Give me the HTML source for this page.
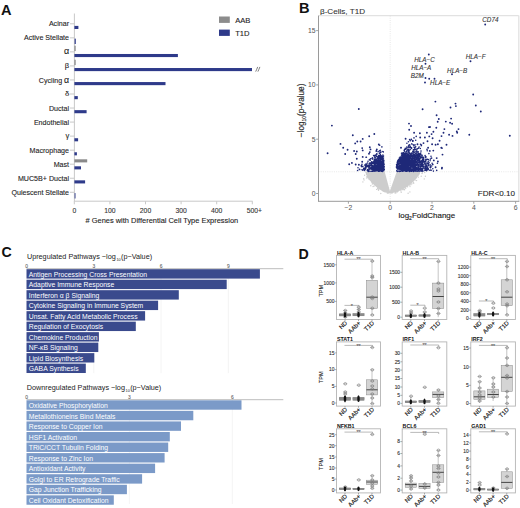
<!DOCTYPE html><html><head><meta charset="utf-8"><style>html,body{margin:0;padding:0;background:#fff;width:520px;height:508px;overflow:hidden}svg{display:block}text{font-family:"Liberation Sans",sans-serif}</style></head><body>
<svg width="520" height="508" viewBox="0 0 520 508">
<rect width="520" height="508" fill="#fff"/>
<text x="0.90" y="14.80" font-size="14.60" font-weight="bold" fill="#111">A</text>
<line x1="74.40" y1="13.50" x2="74.40" y2="201.70" stroke="#c9c9c9" stroke-width="1.00"/>
<line x1="74.40" y1="201.20" x2="252.60" y2="201.20" stroke="#c9c9c9" stroke-width="1.00"/>
<line x1="74.30" y1="201.20" x2="74.30" y2="204.30" stroke="#c9c9c9" stroke-width="1.00"/>
<text x="74.30" y="212.60" font-size="6.80" text-anchor="middle" fill="#333" stroke="#333" stroke-width="0.10">0</text>
<line x1="109.90" y1="201.20" x2="109.90" y2="204.30" stroke="#c9c9c9" stroke-width="1.00"/>
<text x="109.90" y="212.60" font-size="6.80" text-anchor="middle" fill="#333" stroke="#333" stroke-width="0.10">100</text>
<line x1="145.50" y1="201.20" x2="145.50" y2="204.30" stroke="#c9c9c9" stroke-width="1.00"/>
<text x="145.50" y="212.60" font-size="6.80" text-anchor="middle" fill="#333" stroke="#333" stroke-width="0.10">200</text>
<line x1="181.10" y1="201.20" x2="181.10" y2="204.30" stroke="#c9c9c9" stroke-width="1.00"/>
<text x="181.10" y="212.60" font-size="6.80" text-anchor="middle" fill="#333" stroke="#333" stroke-width="0.10">300</text>
<line x1="216.70" y1="201.20" x2="216.70" y2="204.30" stroke="#c9c9c9" stroke-width="1.00"/>
<text x="216.70" y="212.60" font-size="6.80" text-anchor="middle" fill="#333" stroke="#333" stroke-width="0.10">400</text>
<line x1="252.30" y1="201.20" x2="252.30" y2="204.30" stroke="#c9c9c9" stroke-width="1.00"/>
<text x="246.70" y="212.60" font-size="6.80" fill="#333" stroke="#333" stroke-width="0.10">500+</text>
<text x="161.90" y="223.00" font-size="7.45" text-anchor="middle" fill="#222" stroke="#222" stroke-width="0.10"># Genes with Differential Cell Type Expression</text>
<line x1="70.00" y1="23.80" x2="74.40" y2="23.80" stroke="#c9c9c9" stroke-width="1.00"/>
<text x="69.00" y="26.40" font-size="7.10" text-anchor="end" fill="#222" stroke="#222" stroke-width="0.10">Acinar</text>
<rect x="74.40" y="25.90" width="4.00" height="3.10" fill="#2e3a8a"/>
<line x1="70.00" y1="37.84" x2="74.40" y2="37.84" stroke="#c9c9c9" stroke-width="1.00"/>
<text x="69.00" y="40.44" font-size="7.10" text-anchor="end" fill="#222" stroke="#222" stroke-width="0.10">Active Stellate</text>
<rect x="74.60" y="38.64" width="1.20" height="5.40" fill="#2e3a8a"/>
<line x1="70.00" y1="51.88" x2="74.40" y2="51.88" stroke="#c9c9c9" stroke-width="1.00"/>
<text x="69.20" y="53.78" font-size="9.00" text-anchor="end" fill="#222" stroke="#222" stroke-width="0.10">α</text>
<rect x="74.50" y="45.68" width="1.10" height="5.40" fill="#7d7d7d"/>
<rect x="74.40" y="53.98" width="103.50" height="3.10" fill="#2e3a8a"/>
<line x1="70.00" y1="65.92" x2="74.40" y2="65.92" stroke="#c9c9c9" stroke-width="1.00"/>
<text x="69.20" y="68.22" font-size="7.60" text-anchor="end" fill="#222" stroke="#222" stroke-width="0.10">β</text>
<rect x="74.50" y="59.72" width="1.10" height="5.40" fill="#7d7d7d"/>
<rect x="74.40" y="68.02" width="177.60" height="3.10" fill="#2e3a8a"/>
<line x1="70.00" y1="79.96" x2="74.40" y2="79.96" stroke="#c9c9c9" stroke-width="1.00"/>
<text x="69.2" y="82.56" font-size="7.1" text-anchor="end" fill="#222" stroke="#222" stroke-width="0.1">Cycling <tspan font-size="8.8" dy="0.4">α</tspan></text>
<rect x="74.40" y="82.06" width="91.10" height="3.10" fill="#2e3a8a"/>
<line x1="70.00" y1="94.00" x2="74.40" y2="94.00" stroke="#c9c9c9" stroke-width="1.00"/>
<text x="69.20" y="96.30" font-size="7.60" text-anchor="end" fill="#222" stroke="#222" stroke-width="0.10">δ</text>
<rect x="74.40" y="96.10" width="3.40" height="3.10" fill="#2e3a8a"/>
<line x1="70.00" y1="108.04" x2="74.40" y2="108.04" stroke="#c9c9c9" stroke-width="1.00"/>
<text x="69.00" y="110.64" font-size="7.10" text-anchor="end" fill="#222" stroke="#222" stroke-width="0.10">Ductal</text>
<rect x="74.40" y="110.14" width="12.20" height="3.10" fill="#2e3a8a"/>
<line x1="70.00" y1="122.08" x2="74.40" y2="122.08" stroke="#c9c9c9" stroke-width="1.00"/>
<text x="69.00" y="124.68" font-size="7.10" text-anchor="end" fill="#222" stroke="#222" stroke-width="0.10">Endothelial</text>
<line x1="70.00" y1="136.12" x2="74.40" y2="136.12" stroke="#c9c9c9" stroke-width="1.00"/>
<text x="69.20" y="138.42" font-size="7.60" text-anchor="end" fill="#222" stroke="#222" stroke-width="0.10">γ</text>
<rect x="74.40" y="138.22" width="3.70" height="3.10" fill="#2e3a8a"/>
<line x1="70.00" y1="150.16" x2="74.40" y2="150.16" stroke="#c9c9c9" stroke-width="1.00"/>
<text x="69.00" y="152.76" font-size="7.10" text-anchor="end" fill="#222" stroke="#222" stroke-width="0.10">Macrophage</text>
<rect x="74.40" y="152.26" width="2.50" height="3.10" fill="#2e3a8a"/>
<line x1="70.00" y1="164.20" x2="74.40" y2="164.20" stroke="#c9c9c9" stroke-width="1.00"/>
<text x="69.00" y="166.80" font-size="7.10" text-anchor="end" fill="#222" stroke="#222" stroke-width="0.10">Mast</text>
<rect x="74.40" y="159.30" width="12.80" height="3.10" fill="#8a8a8a"/>
<rect x="74.40" y="166.30" width="6.60" height="3.10" fill="#2e3a8a"/>
<line x1="70.00" y1="178.24" x2="74.40" y2="178.24" stroke="#c9c9c9" stroke-width="1.00"/>
<text x="69.00" y="180.84" font-size="7.10" text-anchor="end" fill="#222" stroke="#222" stroke-width="0.10">MUC5B+ Ductal</text>
<rect x="74.40" y="180.34" width="10.70" height="3.10" fill="#2e3a8a"/>
<line x1="70.00" y1="192.28" x2="74.40" y2="192.28" stroke="#c9c9c9" stroke-width="1.00"/>
<text x="69.00" y="194.88" font-size="7.10" text-anchor="end" fill="#222" stroke="#222" stroke-width="0.10">Quiescent Stellate</text>
<rect x="74.60" y="193.08" width="0.90" height="5.40" fill="#2e3a8a"/>
<path d="M255.7 71.6C256.4 70.2 257 68.6 257.7 66.9M257.9 71.6C258.6 70.2 259.2 68.6 259.9 66.9" stroke="#555" stroke-width="0.75" fill="none"/>
<rect x="219.00" y="16.50" width="10.80" height="6.40" fill="#8c8c8c"/>
<rect x="219.00" y="29.60" width="10.80" height="6.30" fill="#2e3a8a"/>
<text x="235.20" y="22.60" font-size="7.60" fill="#222" stroke="#222" stroke-width="0.10">AAB</text>
<text x="235.20" y="35.80" font-size="7.60" fill="#222" stroke="#222" stroke-width="0.10">T1D</text>
<text x="299.00" y="13.00" font-size="14.60" font-weight="bold" fill="#111">B</text>
<text x="320.00" y="14.20" font-size="8.10" fill="#333" stroke="#333" stroke-width="0.10">β-Cells, T1D</text>
<line x1="318.50" y1="15.60" x2="518.80" y2="15.60" stroke="#e2e2e2" stroke-width="1.30"/>
<line x1="518.80" y1="15.60" x2="518.80" y2="201.30" stroke="#e2e2e2" stroke-width="1.30"/>
<line x1="390.20" y1="15.60" x2="390.20" y2="201.30" stroke="#d8d8d8" stroke-width="0.60" stroke-dasharray="1,1.2"/>
<line x1="318.50" y1="171.78" x2="518.80" y2="171.78" stroke="#d8d8d8" stroke-width="0.60" stroke-dasharray="1,1.2"/>
<path d="M365.0 171.6 L367.3 176.9 L371.9 183.1 L378.1 188.5 L384.2 192.3 L390.4 193.6 L398.1 191.5 L405.8 187.7 L411.9 183.1 L416.5 178.5 L419.6 173.8 L420.4 171.6Z M384.6 171.6 L389.9 191.1 L396.8 171.6Z" fill="#cdcdcd" fill-rule="evenodd"/>
<path d="M367.2 177.2h0M402.4 189.1h0M388.3 193.1h0M398.0 191.0h0M425.4 176.3h0M408.1 193.2h0M410.8 184.7h0M419.1 173.7h0M401.2 192.2h0M376.7 189.4h0M362.9 181.9h0M418.4 177.1h0M413.5 182.6h0M378.8 189.3h0M391.4 192.9h0M367.5 176.8h0M400.9 190.8h0M413.2 180.8h0M403.0 189.8h0M422.3 172.7h0M422.0 173.5h0M403.8 189.0h0M424.7 172.6h0M366.8 176.6h0M409.4 185.0h0M366.8 178.0h0M395.8 193.0h0M364.6 175.3h0M378.5 190.2h0M405.7 188.2h0M397.3 191.9h0M424.3 178.9h0M395.0 192.9h0M422.4 172.9h0M415.2 180.1h0M374.1 186.0h0M397.8 191.2h0M363.7 178.7h0M372.3 184.1h0M388.9 192.5h0M369.2 179.5h0M409.9 191.9h0M413.7 183.3h0M410.0 186.6h0M368.4 178.0h0M370.8 185.8h0M373.0 186.6h0M424.8 172.6h0M380.8 193.5h0M367.4 176.9h0M418.0 175.3h0M411.9 183.7h0M372.3 183.1h0M372.1 182.6h0M416.6 180.6h0M404.6 189.8h0M377.7 188.5h0M421.2 176.2h0M395.9 191.9h0M364.1 179.9h0M418.7 174.4h0M383.1 190.7h0M366.5 174.6h0M392.5 192.7h0M387.3 193.0h0M407.6 186.7h0" stroke="#cdcdcd" stroke-width="1.4" stroke-linecap="round"/>
<path d="M415.7 157.2h0M408.4 163.6h0M396.8 165.6h0M410.4 162.2h0M403.6 170.2h0M403.5 163.9h0M410.7 170.0h0M401.5 168.0h0M417.1 148.7h0M415.9 170.0h0M425.1 169.8h0M416.9 165.6h0M410.0 158.1h0M411.6 163.9h0M397.1 168.7h0M417.6 161.1h0M411.7 160.4h0M401.7 164.5h0M411.2 169.5h0M422.3 164.7h0M415.0 162.2h0M413.1 154.5h0M413.6 154.2h0M417.2 155.6h0M403.4 169.4h0M403.8 165.6h0M416.4 150.1h0M397.6 164.4h0M412.4 157.9h0M407.5 166.5h0M419.5 162.4h0M407.7 157.1h0M399.9 161.6h0M412.8 168.5h0M402.6 158.1h0M406.8 163.1h0M420.9 170.8h0M404.4 159.9h0M421.2 145.7h0M400.1 163.1h0M406.5 164.5h0M412.8 162.8h0M405.1 158.7h0M410.2 169.4h0M397.7 165.7h0M415.7 156.9h0M415.2 149.4h0M406.8 165.8h0M408.6 162.8h0M407.1 161.9h0M405.6 167.8h0M408.3 159.2h0M422.7 170.9h0M410.2 163.4h0M403.1 155.1h0M400.2 162.9h0M397.4 163.9h0M407.2 159.7h0M410.3 140.8h0M411.2 154.5h0M401.5 165.0h0M405.4 166.0h0M411.2 165.7h0M415.1 156.5h0M408.9 163.7h0M419.2 169.7h0M408.7 164.3h0M414.8 164.1h0M410.2 165.0h0M414.8 159.7h0M414.8 152.0h0M398.5 164.2h0M405.8 156.5h0M415.0 149.6h0M396.5 166.8h0M422.6 168.9h0M414.8 159.3h0M430.6 167.6h0M401.5 170.6h0M428.1 169.8h0M415.8 153.4h0M405.7 153.0h0M409.5 171.0h0M418.7 158.4h0M402.3 155.0h0M427.0 149.4h0M421.0 151.1h0M402.4 155.1h0M415.3 168.1h0M402.7 166.9h0M417.8 155.0h0M404.3 164.2h0M404.6 170.3h0M402.3 159.1h0M413.9 156.8h0M413.2 165.1h0M403.0 156.4h0M413.3 170.3h0M402.2 163.4h0M403.9 169.7h0M409.7 162.2h0M437.4 163.3h0M416.2 151.6h0M407.8 156.8h0M415.0 144.9h0M407.3 160.0h0M411.5 161.8h0M419.1 162.9h0M406.0 167.2h0M425.2 163.9h0M408.0 160.3h0M417.7 151.8h0M401.0 162.5h0M398.6 161.1h0M414.4 169.3h0M420.0 160.4h0M406.3 160.3h0M407.9 162.6h0M403.2 170.2h0M418.7 167.1h0M413.2 171.1h0M409.5 158.6h0M412.6 170.5h0M410.8 167.1h0M409.9 163.8h0M410.8 155.1h0M399.0 166.7h0M420.3 148.5h0M414.0 137.9h0M426.5 169.6h0M411.4 164.2h0M425.9 166.2h0M414.1 167.7h0M415.1 170.8h0M400.1 163.3h0M419.2 170.8h0M409.3 155.5h0M403.1 153.6h0M418.4 148.3h0M410.2 161.4h0M412.9 169.5h0M408.6 156.8h0M417.3 165.0h0M404.4 156.6h0M406.6 160.4h0M400.3 165.6h0M411.8 169.5h0M407.6 170.4h0M417.4 158.3h0M414.2 149.9h0M420.1 163.3h0M407.1 158.5h0M409.9 169.1h0M416.8 162.4h0M419.5 160.6h0M417.9 157.0h0M421.5 145.1h0M420.3 163.8h0M413.2 154.0h0M408.0 169.4h0M404.7 160.3h0M400.6 162.9h0M412.1 155.8h0M403.2 157.6h0M421.7 161.4h0M400.6 160.1h0M415.1 164.2h0M417.2 152.3h0M401.5 161.6h0M410.0 162.4h0M410.2 146.2h0M412.8 157.1h0M415.4 161.2h0M405.7 162.9h0M401.7 160.8h0M416.3 165.3h0M406.1 161.1h0M409.3 167.1h0M406.0 154.6h0M409.1 155.9h0M418.2 170.1h0M419.2 156.8h0M401.1 168.2h0M414.2 154.9h0M413.3 168.6h0M405.7 149.0h0M398.6 164.8h0M406.8 147.0h0M418.4 169.8h0M401.6 159.7h0M422.2 169.0h0M431.0 156.3h0M406.2 155.6h0M429.8 170.3h0M410.3 155.4h0M400.2 158.4h0M421.2 170.6h0M422.2 163.6h0M427.4 169.4h0M423.6 157.3h0M413.9 165.1h0M407.0 158.9h0M416.6 164.6h0M405.7 153.9h0M402.3 166.2h0M406.2 169.7h0M408.9 162.0h0M423.3 160.8h0M399.9 167.9h0M404.5 163.7h0M413.4 162.7h0M400.6 159.9h0M416.1 167.5h0M407.3 162.9h0M413.4 155.8h0M407.3 156.2h0M426.9 167.7h0M414.1 167.8h0M425.4 157.1h0M413.6 170.8h0M409.6 171.4h0M407.1 158.7h0M430.4 166.0h0M415.7 162.8h0M403.6 157.2h0M403.8 167.6h0M407.3 163.8h0M414.9 165.0h0M407.7 160.7h0M409.3 169.4h0M414.1 160.8h0M408.6 169.8h0M408.3 154.1h0M422.8 170.3h0M404.7 167.3h0M413.6 160.8h0M415.0 159.6h0M409.7 156.8h0M417.0 157.0h0M399.2 167.9h0M402.4 155.5h0M404.8 155.2h0M418.2 158.2h0M419.0 170.2h0M408.3 156.3h0M417.7 154.0h0M411.9 169.4h0M420.2 166.0h0M415.0 158.8h0M416.2 159.3h0M401.5 167.2h0M407.8 160.5h0M413.3 166.6h0M409.9 167.4h0M400.7 167.5h0M409.3 152.8h0M415.9 170.1h0M396.5 167.5h0M408.9 156.9h0M413.9 164.3h0M402.0 167.8h0M410.8 157.1h0M402.4 158.1h0M412.8 151.4h0M416.2 167.8h0M416.8 167.6h0M415.7 168.0h0M404.7 168.9h0M408.5 166.8h0M406.1 161.2h0M412.3 169.3h0M419.0 169.4h0M414.0 147.1h0M402.5 169.4h0M407.3 155.5h0M419.5 162.5h0M405.7 164.9h0M409.1 162.9h0M406.2 157.8h0M408.0 162.2h0M399.4 165.5h0M399.1 164.4h0M409.2 168.4h0M401.2 166.6h0M406.3 158.2h0M404.5 163.1h0M418.7 170.9h0M409.3 162.0h0M420.0 158.4h0M404.5 149.5h0M399.7 158.6h0M407.3 171.1h0M412.7 170.1h0M416.4 152.0h0M411.8 171.3h0M401.7 157.7h0M414.3 162.8h0M403.3 164.1h0M405.6 158.9h0M407.7 157.6h0M414.0 166.4h0M406.2 170.5h0M402.4 170.7h0M423.9 159.1h0M405.7 155.3h0M409.9 163.3h0M399.0 163.6h0M421.5 157.8h0M413.2 168.6h0M410.6 147.2h0M423.3 167.9h0M399.6 169.0h0M415.1 163.5h0M407.8 170.1h0M408.1 170.6h0M410.8 162.1h0M400.2 166.8h0M404.5 159.0h0M401.0 158.8h0M412.8 167.6h0M410.5 166.0h0M404.2 150.6h0M416.4 155.2h0M418.4 159.1h0M408.5 170.7h0M401.2 157.9h0M397.5 162.9h0M405.2 155.3h0M406.9 160.8h0M399.5 161.3h0M399.2 168.3h0M414.2 165.3h0M408.6 145.2h0M418.9 154.0h0M410.0 153.5h0M401.6 162.7h0M422.1 161.5h0M403.5 152.5h0M402.2 171.0h0M417.6 155.2h0M401.2 166.2h0M400.4 157.6h0M426.0 166.4h0M400.1 161.3h0M407.4 156.3h0M414.8 149.2h0M413.3 169.6h0M412.3 160.8h0M398.0 162.3h0M403.4 166.5h0M412.4 170.1h0M407.0 148.1h0M408.3 159.8h0M418.9 162.3h0M407.4 164.4h0M422.9 165.0h0M408.5 164.3h0M410.4 154.8h0M413.1 162.1h0M406.7 169.8h0M412.0 161.4h0M410.8 158.5h0M399.0 171.3h0M412.1 169.8h0M410.9 171.1h0M411.3 159.1h0M423.8 161.4h0M407.3 159.2h0M414.8 169.7h0M412.3 159.9h0M403.4 167.7h0M415.7 156.8h0M397.6 166.8h0M405.2 155.9h0M413.2 160.8h0M419.7 159.2h0M417.0 155.1h0M401.9 167.9h0M428.2 168.3h0M404.7 169.2h0M401.2 165.8h0M427.1 168.9h0M426.4 169.3h0M408.0 158.2h0M403.7 164.3h0M409.8 165.3h0M416.7 158.1h0M400.5 166.7h0M427.8 159.4h0M401.3 161.1h0M416.8 162.7h0M405.2 154.3h0M417.7 171.3h0M417.8 158.3h0M399.1 167.0h0M413.8 160.8h0M418.7 161.3h0M413.4 149.9h0M411.6 159.7h0M416.9 149.9h0M417.1 156.5h0M411.3 169.5h0M412.3 155.6h0M401.7 157.7h0M401.8 159.8h0M414.9 170.4h0M419.0 164.6h0M425.2 168.5h0M413.0 156.4h0M401.1 164.0h0M405.4 169.5h0M428.4 164.7h0M408.8 167.2h0M413.3 164.6h0M407.2 165.9h0M407.0 160.3h0M403.2 168.9h0M402.7 159.9h0M403.5 162.9h0M409.8 160.0h0M420.7 156.9h0M415.2 170.1h0M416.8 167.7h0M411.4 163.7h0M405.4 168.2h0M408.6 149.3h0M425.7 159.2h0M414.9 147.7h0M400.0 168.4h0M413.5 165.9h0M409.3 153.5h0M404.9 165.3h0M411.8 159.3h0M408.1 160.6h0M402.2 162.4h0M398.5 167.5h0M406.0 166.5h0M426.1 165.1h0M408.9 165.2h0M404.2 162.2h0M400.2 166.6h0M407.9 164.4h0M410.0 156.1h0M400.2 167.0h0M402.0 156.0h0M418.9 164.8h0M399.6 168.3h0M408.5 163.5h0M418.8 159.2h0M411.1 163.0h0M411.6 157.0h0M410.4 166.1h0M416.8 149.9h0M409.6 161.8h0M418.5 169.1h0M406.5 155.6h0M403.2 158.3h0M400.9 169.8h0M413.3 156.6h0M418.3 160.4h0M411.8 170.1h0M432.1 163.2h0M414.5 154.5h0M421.8 168.6h0M407.2 157.7h0M402.4 161.0h0M418.7 167.8h0M408.2 156.4h0M418.5 160.0h0M422.8 161.7h0M414.5 157.5h0M408.5 160.8h0M411.5 148.4h0M406.8 147.1h0M418.8 165.1h0M400.4 163.1h0M408.7 157.7h0M410.0 169.7h0M415.8 170.9h0M407.9 166.8h0M407.3 157.0h0M399.9 158.2h0M402.1 171.3h0M399.6 166.0h0M402.1 160.9h0M408.2 161.3h0M409.1 167.5h0M403.5 166.8h0M412.4 162.4h0M396.6 164.6h0M413.0 168.7h0M402.4 153.4h0M403.0 155.4h0M410.8 161.9h0M402.2 159.2h0M413.8 171.0h0M407.9 166.4h0M415.3 161.8h0M405.7 159.4h0M408.8 152.5h0M401.6 159.0h0M425.3 170.1h0M414.0 152.6h0M401.4 167.4h0M418.4 164.9h0M401.1 170.2h0M405.1 163.4h0M401.1 157.5h0M409.6 159.2h0M406.2 165.7h0M411.1 166.7h0M413.8 167.7h0M425.7 167.6h0M422.4 160.5h0M398.9 159.6h0M423.7 160.8h0M407.7 162.7h0M414.8 159.8h0M401.1 157.9h0M421.0 165.7h0M409.9 160.3h0M421.8 170.6h0M406.4 169.8h0M419.2 171.3h0M407.4 169.9h0M413.7 168.8h0M433.4 171.1h0M403.0 162.1h0M410.3 170.6h0M398.4 167.9h0M415.3 159.7h0M412.7 165.9h0M406.9 162.8h0M426.0 168.2h0M424.9 170.3h0M405.6 155.0h0M401.5 158.6h0M415.8 161.6h0M398.8 166.9h0M407.0 167.7h0M427.3 150.8h0M425.6 167.5h0M428.9 153.6h0M430.1 164.7h0M414.2 159.7h0M403.9 161.8h0M415.5 162.3h0M404.6 163.8h0M418.0 167.0h0M415.8 167.5h0M405.6 164.3h0M421.8 168.3h0M405.4 159.3h0M414.5 164.2h0M398.0 171.1h0M409.1 162.3h0M415.3 155.7h0M408.6 169.6h0M415.4 166.1h0M426.9 166.2h0M404.9 151.5h0M401.7 157.9h0M416.6 159.8h0M413.4 162.6h0M407.3 161.9h0M422.7 168.0h0M413.5 165.1h0M419.9 158.0h0M428.5 159.8h0M414.1 156.4h0M402.2 157.0h0M402.8 169.2h0M417.0 169.2h0M397.1 166.0h0M406.5 168.7h0M426.0 162.1h0M415.8 169.0h0M412.9 165.8h0M412.6 153.1h0M420.5 161.6h0M409.8 164.0h0M402.8 165.7h0M403.9 156.9h0M404.1 166.5h0M410.2 166.4h0M415.4 165.7h0M401.5 164.6h0M408.8 146.1h0M417.0 161.2h0M415.5 160.6h0M397.3 168.7h0M399.9 165.7h0M408.7 162.0h0M418.4 155.1h0M400.6 167.6h0M405.4 166.2h0M409.1 171.2h0M405.2 157.7h0M405.7 168.4h0M405.5 169.4h0M401.5 155.2h0M409.1 161.5h0M413.9 166.4h0M414.3 162.8h0M404.9 166.7h0M401.7 163.6h0M405.2 166.8h0M401.5 163.6h0M407.1 157.3h0M404.7 167.2h0M410.9 169.1h0M416.2 161.3h0M402.1 161.5h0M414.3 159.4h0M415.8 166.1h0M410.4 167.4h0M404.0 164.2h0M400.8 161.7h0M413.2 162.0h0M422.4 159.7h0M410.6 156.2h0M411.7 170.8h0M413.6 151.8h0M398.2 169.1h0M407.7 149.7h0M429.1 162.7h0M410.1 169.8h0M419.1 169.7h0M404.3 167.3h0M410.0 161.3h0M406.3 157.9h0M403.9 168.8h0M414.9 167.8h0M402.8 162.5h0M431.2 170.3h0M405.6 164.7h0M418.3 169.6h0M397.6 161.2h0M406.2 160.0h0M401.6 163.2h0M424.5 168.1h0M401.3 168.7h0M424.7 161.8h0M414.2 158.2h0M401.9 168.2h0M425.1 169.1h0M403.5 166.6h0M408.3 157.4h0M422.7 159.0h0M419.1 147.1h0M425.2 161.2h0M407.0 148.0h0M408.5 155.8h0M410.0 170.1h0M408.3 156.5h0M398.8 163.2h0M408.3 170.0h0M408.0 169.8h0M421.2 170.6h0M404.0 164.2h0M408.8 155.0h0M400.2 157.1h0M415.6 166.3h0M410.6 162.1h0M415.0 155.9h0M403.5 160.8h0M401.7 167.6h0M407.0 166.8h0M406.9 164.4h0M415.5 169.2h0M425.2 166.6h0M410.9 168.1h0M409.4 170.5h0M408.3 147.1h0M404.3 158.9h0M415.4 159.6h0M407.5 154.8h0M426.5 165.1h0M407.0 165.2h0M412.7 164.1h0M418.0 169.2h0M414.4 158.6h0M403.1 171.0h0M413.2 144.7h0M428.4 163.5h0M417.3 159.9h0M400.3 165.3h0M405.4 154.5h0M403.9 158.1h0M405.6 166.6h0M398.4 168.8h0M405.2 160.9h0M414.3 162.3h0M402.7 169.4h0M407.9 155.2h0M408.9 161.2h0M406.5 163.1h0M400.4 161.9h0M411.8 143.9h0M406.2 158.2h0M402.1 165.8h0M399.7 159.5h0M411.4 159.8h0M410.4 160.8h0M406.8 170.4h0M421.8 164.1h0M415.7 168.9h0M404.5 162.1h0M413.5 171.4h0M403.6 165.3h0M415.2 170.8h0M411.0 158.5h0M403.2 167.6h0M404.8 162.0h0M409.5 157.5h0M415.5 169.8h0M409.8 167.7h0M408.6 158.5h0M413.7 156.4h0M412.7 158.6h0M407.9 161.1h0M402.1 163.5h0M413.6 170.2h0M408.1 163.5h0M407.8 155.6h0M407.0 153.3h0M404.6 169.6h0M421.5 171.1h0M397.3 171.4h0M408.4 151.8h0M420.7 171.0h0M408.4 141.7h0M404.0 155.8h0M411.6 153.1h0M407.3 165.5h0M421.0 170.4h0M406.8 158.5h0M412.7 140.7h0M414.8 163.7h0M397.3 169.1h0M426.9 165.4h0M410.6 161.7h0M422.1 162.1h0M408.5 168.9h0M408.6 151.7h0M397.9 160.5h0M399.2 163.1h0M427.2 168.0h0M399.6 167.9h0M405.6 163.8h0M404.9 168.9h0M400.6 159.0h0M408.2 160.1h0M424.6 163.3h0M406.9 143.2h0M399.2 164.7h0M411.7 155.0h0M425.2 166.1h0M403.0 153.6h0M425.3 169.3h0M421.7 169.4h0M406.0 159.7h0M420.5 144.3h0M405.5 167.4h0M426.1 166.2h0M430.1 160.7h0M402.3 159.2h0M418.7 166.3h0M415.3 156.6h0M420.5 157.9h0M423.2 158.4h0M407.3 161.7h0M416.2 155.3h0M414.4 170.7h0M411.6 147.9h0M409.3 161.9h0M426.1 165.3h0M401.4 163.7h0M413.5 157.1h0M398.5 167.0h0M418.3 170.2h0M413.5 170.7h0M404.9 168.5h0M410.7 167.0h0M423.8 161.1h0M405.8 155.8h0M406.2 169.9h0M426.6 170.8h0M397.5 162.9h0M409.9 147.6h0M412.0 166.3h0M409.4 152.7h0M398.0 162.4h0M432.8 168.8h0M421.8 165.0h0M405.6 168.9h0M403.7 162.7h0M399.3 171.4h0M408.3 159.9h0M411.9 165.8h0M419.8 155.1h0M406.0 156.9h0M427.5 167.4h0M418.5 165.5h0M426.0 160.2h0M399.8 167.1h0M407.1 163.5h0M403.9 167.2h0M411.1 167.1h0M425.9 168.1h0M413.8 168.7h0M407.2 150.0h0M405.5 162.2h0M404.6 162.7h0M402.2 170.2h0M408.2 165.3h0M405.9 167.2h0M406.6 162.4h0M414.3 157.6h0M406.9 166.2h0M414.7 171.0h0M420.9 165.3h0M409.6 155.6h0M410.2 149.6h0M414.9 169.7h0M425.9 169.3h0M404.2 161.0h0M408.3 170.2h0M403.2 167.5h0M414.3 163.9h0M402.2 159.1h0M415.9 168.9h0M414.7 160.3h0M409.1 161.0h0M409.7 161.9h0M422.0 169.1h0M400.2 165.6h0M409.6 139.6h0M418.9 160.5h0M415.2 164.0h0M399.8 165.3h0M405.9 156.1h0M411.6 170.1h0M400.2 161.1h0M405.1 149.5h0M418.0 160.8h0M402.7 170.7h0M408.5 156.3h0M405.3 163.0h0M418.7 165.1h0M402.5 171.2h0M404.8 165.0h0M413.8 162.2h0M414.2 154.4h0M419.5 156.4h0M399.9 162.1h0M400.1 168.7h0M400.5 159.8h0M410.5 154.0h0M413.2 155.8h0M421.6 163.8h0M401.1 158.9h0M404.0 156.7h0M425.2 170.3h0M410.3 169.3h0M417.7 161.0h0M400.8 163.0h0M413.2 158.7h0M400.6 171.2h0M408.6 170.8h0M407.1 166.4h0M419.6 168.6h0M412.6 165.4h0M403.0 159.6h0M405.7 171.2h0M428.7 165.8h0M418.2 151.7h0M411.0 160.2h0M418.6 156.4h0M418.4 157.4h0M408.0 168.4h0M413.7 145.2h0M404.3 167.0h0M428.3 169.2h0M408.2 157.5h0M414.6 163.9h0M401.1 161.3h0M409.8 166.8h0M414.3 166.8h0M422.4 169.7h0M402.5 165.0h0M421.5 166.3h0M397.3 167.5h0M422.7 166.3h0M404.1 153.7h0M407.4 161.1h0M406.7 151.5h0M425.1 155.6h0M400.5 160.2h0M423.4 161.9h0M402.0 164.6h0M409.7 159.8h0M401.7 161.3h0M416.2 136.4h0M413.2 169.3h0M407.9 163.0h0M404.0 154.1h0M403.9 168.4h0M413.4 158.9h0M402.0 168.0h0M410.6 170.9h0M417.0 168.8h0M405.1 157.7h0M419.3 169.0h0M409.8 165.0h0M407.1 159.1h0M413.6 170.3h0M413.0 170.3h0M409.1 161.5h0M398.5 163.8h0M401.1 165.7h0M407.4 167.9h0M411.7 162.9h0M420.8 166.6h0M425.7 166.3h0M428.0 163.6h0M415.9 159.3h0M420.3 162.5h0M421.0 170.1h0M401.6 162.4h0M404.0 164.6h0M402.3 166.0h0M409.3 158.5h0M416.0 171.3h0M401.4 167.5h0M405.7 161.6h0M405.4 153.1h0M409.8 157.7h0M412.3 164.9h0M413.2 171.1h0M406.5 163.1h0M405.8 163.8h0M407.3 159.2h0M417.3 157.1h0M412.3 166.0h0M399.1 168.1h0M399.4 160.6h0M415.1 162.4h0M414.9 164.9h0M412.1 155.3h0M425.9 164.4h0M400.5 160.3h0M411.7 167.0h0M406.3 168.4h0M407.8 159.6h0M409.7 153.1h0M407.9 157.5h0M411.4 160.1h0M407.8 164.9h0M411.1 162.7h0M409.5 165.2h0M411.5 164.8h0M410.2 168.9h0M412.0 161.5h0M405.3 148.3h0M421.8 162.9h0M419.1 155.7h0M408.9 152.6h0M409.6 164.2h0M402.1 170.0h0M406.9 162.1h0M426.1 168.3h0M408.6 151.3h0M403.6 154.7h0M409.5 163.3h0M420.6 164.5h0M405.2 164.6h0M411.2 154.9h0M410.4 158.7h0M403.4 158.6h0M412.3 163.3h0M413.2 164.9h0M398.4 166.8h0M418.6 153.2h0M406.3 161.5h0M415.1 166.6h0M406.1 157.5h0M407.0 157.8h0M409.2 163.2h0M413.5 156.8h0M417.6 168.6h0M418.9 165.3h0M412.9 163.2h0M403.7 169.6h0M404.9 156.6h0M401.0 160.9h0M407.9 158.2h0M404.1 171.0h0M397.3 162.4h0M401.3 170.2h0M398.5 159.7h0M402.2 153.1h0M401.8 163.3h0M418.3 169.5h0M415.5 163.3h0M406.8 163.1h0M420.2 153.6h0M402.3 163.8h0M402.8 162.0h0M408.4 165.7h0M417.4 162.8h0M421.8 160.6h0M416.4 157.4h0M411.2 166.6h0M404.1 163.1h0M414.1 167.5h0M411.9 169.4h0M405.1 157.1h0M411.1 166.9h0M416.0 153.5h0M419.5 159.4h0M420.5 168.4h0M404.3 156.2h0M403.4 158.5h0M407.7 154.2h0M398.8 161.2h0M408.2 164.4h0M405.4 155.4h0M406.7 168.8h0M414.7 164.4h0M411.2 168.9h0M401.0 170.0h0M404.3 150.7h0M423.6 166.6h0M409.6 168.4h0M396.7 170.7h0M414.7 156.2h0M416.2 162.9h0M423.5 160.7h0M413.8 156.3h0M417.8 170.9h0M412.6 163.6h0M418.7 153.5h0M398.5 159.6h0M410.8 162.6h0M407.9 161.9h0M400.4 168.6h0M416.9 171.0h0M402.7 165.0h0M408.2 164.8h0M417.3 157.5h0M430.4 159.1h0M409.6 163.5h0M421.0 154.9h0M420.2 165.9h0M405.6 162.2h0M404.4 154.9h0M403.5 161.0h0M404.7 155.2h0M400.3 167.2h0M424.9 170.4h0M412.4 166.0h0M415.4 170.0h0M412.4 169.6h0M419.8 169.2h0M421.5 161.6h0M402.4 155.6h0M402.1 153.6h0M415.5 156.1h0M417.2 169.1h0M417.9 166.8h0M405.3 157.2h0M401.9 156.3h0M413.7 167.9h0M413.8 164.9h0M421.5 156.7h0M416.5 153.9h0M402.7 156.9h0M404.0 161.8h0M406.0 165.4h0M408.9 165.3h0M415.7 140.3h0M410.4 162.7h0M400.3 167.2h0M413.2 168.5h0M421.8 169.1h0M407.8 165.3h0M425.7 168.8h0M414.7 166.7h0M411.3 164.3h0M408.2 149.9h0M421.1 170.8h0M409.1 158.5h0M402.1 166.8h0M406.9 165.0h0M407.2 163.2h0M417.2 159.7h0M404.9 157.8h0M401.4 169.5h0M414.1 157.4h0M412.9 164.1h0M415.6 155.7h0M422.3 157.1h0M407.2 170.2h0M409.2 150.9h0M411.6 169.6h0M407.5 154.5h0M400.1 162.2h0M436.7 170.4h0M415.7 146.7h0M416.1 162.5h0M400.0 169.8h0M408.8 171.0h0M406.7 168.9h0M415.4 167.0h0M404.4 165.5h0M406.3 169.6h0M399.1 166.6h0M409.8 157.7h0M404.6 157.8h0M409.9 157.6h0M418.0 155.4h0M402.4 158.0h0M409.6 156.6h0M404.9 168.9h0M417.5 167.1h0M410.3 167.2h0M410.4 157.9h0M414.6 168.9h0M414.1 168.9h0M400.6 169.8h0M406.8 166.9h0M399.3 168.9h0M409.7 157.6h0M425.3 168.8h0M404.4 153.5h0M405.1 158.9h0M411.3 155.7h0M422.8 163.1h0M415.0 156.7h0M412.4 169.1h0M407.1 170.7h0M405.2 169.7h0M415.6 165.9h0M403.1 170.8h0M407.8 162.5h0M405.4 157.7h0M409.9 165.4h0M410.4 167.9h0M419.3 160.1h0M413.1 164.8h0M406.7 151.1h0M404.5 167.4h0M412.0 169.4h0M406.1 167.1h0M422.0 161.6h0M417.6 160.8h0M409.7 144.8h0M423.8 164.7h0M410.3 164.9h0M405.1 156.2h0M422.9 171.3h0M415.9 170.1h0M422.9 170.2h0M401.6 154.9h0M404.5 161.1h0M404.3 169.9h0M408.0 163.2h0M409.2 161.4h0M401.5 153.2h0M405.6 159.1h0M423.5 159.8h0M406.4 165.7h0M414.7 156.8h0M405.9 148.9h0M406.1 168.6h0M398.9 161.5h0M407.9 170.7h0M402.3 154.9h0M410.2 169.4h0M417.9 166.7h0M402.8 170.6h0M413.4 162.5h0M403.7 167.3h0M402.7 161.7h0M412.2 160.9h0M413.7 161.5h0M430.9 170.1h0M408.4 151.7h0M400.5 163.1h0M409.1 164.1h0M415.5 169.4h0M399.9 163.0h0M415.0 168.6h0M420.6 169.7h0M405.4 159.8h0M408.2 169.9h0M419.5 165.9h0M400.6 160.5h0M417.5 163.9h0M411.7 166.1h0M401.3 164.9h0M408.8 165.2h0M422.1 155.4h0M400.6 163.5h0M406.1 156.2h0M414.4 149.2h0M404.7 159.3h0M414.9 154.5h0M416.0 168.1h0M412.5 165.6h0M407.8 169.8h0M407.5 154.4h0M417.8 159.5h0M400.9 164.6h0M412.0 156.7h0M426.9 159.2h0M409.1 157.7h0M399.5 157.8h0M405.7 158.4h0M417.5 164.3h0M420.7 166.0h0M415.6 169.3h0M428.2 161.5h0M413.8 154.9h0M409.6 157.9h0M415.8 157.4h0M412.4 164.7h0M396.8 165.8h0M399.5 158.4h0M413.9 155.3h0M404.1 164.3h0M405.0 155.9h0M401.0 157.5h0M402.8 166.7h0M414.8 158.4h0M407.2 170.0h0M410.0 157.4h0M407.1 152.7h0M407.3 163.5h0M427.4 167.0h0M397.9 164.6h0M406.9 171.3h0M400.2 165.3h0M420.5 167.3h0M405.1 160.6h0M401.2 159.6h0M411.2 170.4h0M415.1 159.8h0M404.8 170.3h0M410.8 169.3h0M423.5 161.2h0M403.3 160.5h0M400.9 159.5h0M425.6 167.5h0M403.2 164.0h0M413.7 171.3h0M404.2 170.6h0M420.8 153.0h0M406.4 157.4h0M426.1 163.8h0M418.0 162.7h0M431.7 166.0h0M408.6 147.1h0M369.3 159.7h0M376.6 166.0h0M379.5 168.1h0M380.8 165.9h0M382.3 166.0h0M375.8 169.5h0M376.5 166.4h0M375.6 159.6h0M376.0 165.3h0M378.6 165.0h0M376.3 166.1h0M378.0 163.5h0M378.9 159.8h0M382.2 165.8h0M376.4 163.2h0M383.3 151.9h0M382.7 169.1h0M382.3 170.3h0M374.6 155.8h0M374.8 160.6h0M380.6 161.4h0M377.1 161.6h0M375.7 169.8h0M382.0 166.5h0M374.1 166.5h0M381.5 156.9h0M379.8 161.5h0M371.7 166.0h0M380.0 165.8h0M377.0 164.2h0M372.5 157.7h0M366.1 164.2h0M377.3 162.2h0M369.3 163.4h0M382.6 166.7h0M379.7 145.3h0M370.2 163.5h0M372.0 168.9h0M371.3 164.2h0M373.1 171.2h0M381.4 164.3h0M377.8 168.7h0M367.9 171.1h0M376.8 162.1h0M377.0 164.4h0M378.9 166.7h0M381.0 152.1h0M378.3 156.4h0M367.5 166.4h0M383.0 167.3h0M377.4 163.2h0M378.5 160.9h0M376.0 171.2h0M378.6 162.2h0M378.1 162.2h0M382.4 166.0h0M378.4 159.6h0M376.3 162.6h0M380.2 159.5h0M383.7 165.7h0M382.5 171.4h0M380.6 158.0h0M381.1 167.2h0M381.1 159.8h0M378.3 159.8h0M376.2 162.9h0M380.1 162.3h0M378.4 169.1h0M373.3 170.4h0M376.3 167.9h0M375.2 167.8h0M375.2 166.8h0M374.4 163.2h0M383.9 164.8h0M370.0 163.1h0M383.3 168.0h0M368.8 167.1h0M376.0 166.4h0M382.9 171.0h0M382.2 160.5h0M376.1 160.9h0M366.5 165.8h0M375.6 161.1h0M366.9 166.7h0M383.0 162.8h0M366.1 166.1h0M382.9 161.5h0M376.8 160.5h0M380.0 155.4h0M365.3 169.3h0M383.5 167.0h0M379.4 153.3h0M380.4 163.0h0M384.3 169.6h0M381.4 165.9h0M382.5 161.0h0M378.2 160.3h0M380.4 166.9h0M382.2 160.4h0M374.1 159.0h0M375.5 163.1h0M382.4 160.1h0M380.2 158.4h0M377.0 162.0h0M379.1 166.5h0M374.9 169.2h0M381.9 168.5h0M380.1 164.0h0M369.4 163.2h0M371.7 162.4h0M380.9 162.6h0M373.6 155.6h0M372.4 159.1h0M378.5 164.9h0M378.6 156.3h0M383.3 170.3h0M381.4 166.0h0M380.8 157.3h0M382.9 155.0h0M376.5 159.3h0M383.4 156.2h0M375.4 164.9h0M382.2 170.2h0M378.2 158.2h0M383.1 159.0h0M370.6 168.0h0M367.4 169.7h0M371.6 171.2h0M382.9 164.9h0M380.6 168.9h0M374.0 160.9h0M379.1 160.7h0M384.1 164.6h0M373.0 166.5h0M376.3 169.9h0M377.9 162.9h0M372.2 163.4h0M378.6 161.7h0M376.1 171.0h0M372.6 169.6h0M369.8 166.8h0M381.6 157.9h0M372.6 162.7h0M376.3 169.5h0M382.4 157.3h0M381.9 170.7h0M382.3 167.4h0M379.7 167.2h0M378.1 163.2h0M374.1 168.8h0M380.5 159.8h0M380.2 164.3h0M375.4 157.8h0M381.9 167.9h0M369.7 169.2h0M373.0 167.2h0M372.6 162.5h0M368.5 165.3h0M381.2 158.5h0M377.9 167.4h0M372.5 169.0h0M380.1 161.1h0M380.1 150.6h0M381.5 166.3h0M361.4 166.6h0M381.1 164.4h0M371.4 162.4h0M375.3 157.8h0M376.5 168.1h0M380.4 164.6h0M374.3 159.4h0M376.9 160.9h0M380.4 157.8h0M365.9 167.8h0M378.4 156.8h0M375.8 160.9h0M382.3 165.1h0M380.0 164.4h0M365.9 164.0h0M382.3 165.6h0M373.2 167.8h0M382.7 158.4h0M382.9 164.5h0M381.7 167.9h0M381.1 168.8h0M374.2 166.5h0M383.0 159.0h0M380.2 160.4h0M383.8 161.0h0M370.5 158.7h0M377.0 164.7h0M378.0 151.7h0M379.6 167.2h0M380.7 156.0h0M381.8 165.5h0M379.2 158.3h0M382.9 165.6h0M368.5 167.1h0M379.2 157.5h0M376.0 156.1h0M377.4 160.8h0M378.2 166.3h0M379.7 163.2h0M368.4 166.8h0M377.5 162.4h0M380.6 159.4h0M374.3 164.4h0M373.2 169.9h0M376.1 154.9h0M377.1 162.1h0M381.9 146.9h0M381.9 168.1h0M380.2 161.9h0M382.7 160.7h0M378.6 171.3h0M377.1 163.2h0M367.3 170.4h0M372.5 166.6h0M381.5 168.9h0M379.8 166.0h0M372.7 165.4h0M380.3 164.1h0M362.8 170.3h0M379.2 165.1h0M375.1 160.8h0M375.8 161.8h0M382.0 156.4h0M377.9 169.5h0M375.8 168.2h0M382.6 168.6h0M380.0 163.9h0M376.9 160.1h0M368.9 170.9h0M376.1 169.8h0M380.4 158.6h0M380.2 164.5h0M368.0 161.3h0M379.1 158.2h0M380.1 168.0h0M380.1 166.8h0M374.0 169.4h0M378.2 165.5h0M377.9 163.0h0M381.8 165.5h0M381.9 157.0h0M379.0 155.8h0M379.5 160.2h0M381.5 170.1h0M373.8 162.1h0M383.8 170.2h0M378.2 171.3h0M380.7 167.4h0M376.9 168.0h0M374.2 165.8h0M380.8 163.3h0M374.7 168.8h0M378.4 160.7h0M373.0 168.8h0M377.8 163.8h0M366.3 166.1h0M384.2 166.5h0M369.8 159.6h0M375.1 163.1h0M374.5 161.9h0M383.8 160.2h0M376.7 162.4h0M381.5 158.7h0M382.1 163.1h0M384.0 167.9h0M380.7 167.5h0M374.3 168.5h0M381.1 166.3h0M371.6 161.9h0M382.9 163.8h0M378.7 156.6h0M367.9 170.6h0M377.6 170.8h0M372.9 168.4h0M382.4 161.2h0M375.3 168.1h0M374.8 170.8h0M378.2 170.9h0M382.9 169.1h0M378.3 159.0h0M379.1 163.7h0M367.4 163.0h0M370.1 171.3h0M379.8 167.8h0M382.0 169.5h0M374.6 164.7h0M379.5 165.0h0M364.6 168.9h0M375.3 166.4h0M380.7 155.3h0M380.2 159.0h0M378.6 155.6h0M381.7 167.1h0M375.4 168.0h0M377.8 162.4h0M372.4 162.6h0M379.3 167.5h0M368.3 169.3h0M370.0 163.3h0M373.4 167.9h0M372.9 162.7h0M381.0 156.5h0M370.7 165.2h0M370.2 165.5h0M373.3 163.2h0M382.0 161.7h0M379.6 162.5h0M379.1 161.4h0M379.6 163.4h0M374.5 166.8h0M378.7 168.5h0M375.2 159.4h0M376.4 170.3h0M366.4 157.2h0M376.9 163.9h0M377.2 169.7h0M381.8 162.7h0M378.3 163.7h0M376.3 167.5h0M382.2 167.2h0M373.2 162.3h0M380.0 156.2h0M380.5 170.2h0M379.5 169.9h0M364.6 169.7h0M377.4 163.8h0M379.2 168.0h0M379.5 161.7h0M380.6 166.9h0M381.9 170.9h0M381.0 170.1h0M371.6 167.3h0M382.9 161.4h0M366.0 164.8h0M378.9 170.1h0M383.0 169.0h0M371.2 164.9h0M363.2 169.7h0M364.0 169.4h0M368.4 171.4h0M375.4 167.1h0M371.3 164.2h0M358.0 167.8h0M374.6 159.6h0M377.5 168.4h0M379.5 168.8h0M369.0 167.8h0M372.8 167.1h0M381.2 168.1h0M374.6 161.8h0M374.2 164.0h0M381.8 164.8h0M374.9 162.0h0M381.0 164.5h0M380.5 162.4h0M379.8 164.2h0M376.8 156.5h0M374.6 157.1h0M377.5 165.4h0M380.3 154.2h0M369.8 165.7h0M369.3 168.8h0M375.1 164.4h0M382.8 168.5h0M378.5 162.9h0M375.5 160.8h0M382.2 165.1h0M365.5 166.2h0M383.7 170.8h0M375.0 155.2h0M381.9 167.7h0M383.9 167.3h0M374.3 171.1h0M378.2 165.8h0M374.4 169.4h0M369.1 165.4h0M380.4 163.2h0M380.3 155.1h0M375.7 168.9h0M378.1 162.1h0M374.5 171.1h0M383.6 170.0h0M375.7 170.5h0M378.9 160.2h0M380.0 168.0h0M378.2 157.5h0M379.8 161.4h0M375.7 166.1h0M379.2 169.0h0M380.4 150.2h0M379.4 167.8h0M371.2 162.7h0M379.2 168.8h0M362.0 164.3h0M384.1 168.0h0M364.8 165.1h0M379.2 167.7h0M379.1 162.7h0M369.0 166.9h0M378.5 164.9h0M372.0 158.2h0M378.3 165.5h0M382.5 163.7h0M378.0 161.3h0M375.3 167.0h0M382.4 157.7h0M383.7 164.0h0M377.0 166.0h0M373.4 170.9h0M362.0 169.8h0M368.5 166.6h0M380.5 163.8h0M379.9 168.0h0M383.8 163.4h0M374.1 166.4h0M379.1 170.2h0M372.9 170.8h0M375.2 169.7h0M366.0 168.0h0M382.8 159.0h0M383.5 158.0h0M376.3 170.8h0M378.9 169.8h0M383.1 167.8h0M366.1 166.9h0M378.6 166.1h0M372.7 171.0h0M371.1 169.0h0M371.4 168.0h0M366.0 157.3h0M378.4 161.1h0M374.2 167.1h0M373.1 168.1h0M383.1 168.9h0M383.6 170.0h0M377.3 158.3h0M373.6 168.3h0M365.6 165.8h0M369.0 166.2h0M376.6 166.4h0M381.9 161.6h0M382.6 158.7h0M366.5 164.4h0M372.7 165.9h0M377.7 163.0h0M381.8 162.4h0M381.0 155.6h0M379.0 166.1h0M378.0 171.1h0M381.7 159.0h0M382.8 151.5h0M375.2 170.4h0M375.7 162.6h0M374.9 163.1h0M374.8 168.1h0M378.5 161.0h0M369.9 166.7h0M375.7 167.7h0M375.7 166.9h0M383.8 163.8h0M377.7 167.1h0M363.7 168.4h0M377.6 169.7h0M378.3 166.6h0M377.2 168.1h0M379.8 156.7h0M378.8 161.3h0M379.4 168.5h0M379.0 168.5h0M382.0 165.1h0M367.9 165.2h0M381.3 158.8h0M371.0 164.8h0M382.3 169.4h0M380.9 158.6h0M375.4 170.6h0M378.0 164.8h0M373.3 162.2h0M383.3 165.6h0M377.2 158.4h0M380.2 152.5h0M370.2 160.3h0M372.5 165.8h0M380.3 159.8h0M376.4 165.8h0M377.5 164.1h0M383.5 156.0h0M379.6 166.8h0M380.0 159.5h0M361.3 165.6h0M379.7 158.0h0M372.7 168.4h0M364.6 168.6h0M381.8 171.2h0M375.1 164.1h0M379.3 151.0h0M375.1 170.0h0M382.1 164.2h0M364.6 170.4h0M373.4 161.8h0M382.4 162.2h0M382.6 171.2h0M378.9 160.5h0M365.2 167.5h0M380.5 161.7h0M377.7 166.5h0M375.2 161.0h0M379.3 170.9h0M383.0 169.2h0M375.3 169.0h0M381.0 171.3h0M383.7 162.1h0M382.8 166.1h0M369.3 165.1h0M382.5 166.2h0M376.6 159.6h0M377.1 162.6h0M383.1 164.0h0M357.6 170.5h0M372.2 171.2h0M373.1 165.7h0M380.1 163.4h0M379.4 171.3h0M378.2 164.7h0M377.7 165.0h0M372.9 165.5h0M376.1 161.7h0M371.9 169.4h0" stroke="#1e2878" stroke-width="1.6" stroke-linecap="round"/>
<path d="M485.2 24.5h0M428.8 54.5h0M425.5 63.8h0M425.5 78.0h0M429.2 78.8h0M434.5 78.8h0M425.0 82.5h0M452.0 74.2h0M470.5 61.2h0M473.2 94.5h0M435.4 101.6h0M422.6 109.2h0M450.5 107.5h0M455.5 103.6h0M455.9 106.1h0M436.6 115.3h0M438.8 119.0h0M451.1 118.6h0M437.7 121.7h0M445.8 121.6h0M450.1 122.7h0M452.1 123.8h0M409.0 123.6h0M411.0 126.0h0M409.2 129.8h0M428.9 127.1h0M430.0 127.0h0M436.3 127.7h0M444.4 129.1h0M443.5 132.8h0M458.5 129.1h0M456.8 131.4h0M457.2 132.8h0M414.1 132.8h0M419.9 133.2h0M426.9 132.8h0M433.4 131.8h0M431.6 134.1h0M449.1 134.8h0M452.5 135.9h0M441.5 136.1h0M420.2 137.5h0M424.9 137.5h0M429.3 136.4h0M432.6 138.2h0M469.3 134.8h0M509.8 135.8h0M475.8 105.5h0M480.8 111.5h0M405.6 138.7h0M411.3 139.4h0M412.8 141.0h0M417.5 144.2h0M423.5 143.1h0M427.5 141.3h0M432.1 144.2h0M435.6 144.8h0M437.9 144.2h0M439.6 140.8h0M446.5 144.8h0M401.0 147.7h0M428.1 147.7h0M433.3 150.6h0M441.3 147.7h0M442.5 154.6h0M436.7 158.1h0M437.9 161.5h0M435.6 167.3h0M441.9 168.5h0M429.8 150.9h0M431.5 158.1h0M433.8 160.4h0M432.7 164.4h0M425.8 156.9h0M427.5 163.3h0M430.4 167.3h0M426.9 169.6h0M442.0 148.1h0M442.0 167.6h0M358.8 109.0h0M331.9 125.6h0M327.6 153.2h0M352.8 135.3h0M369.2 136.2h0M374.3 134.0h0M362.7 138.9h0M357.3 141.5h0M360.6 141.5h0M355.2 143.4h0M340.5 143.9h0M378.8 144.5h0M343.2 147.7h0M347.6 149.7h0M362.2 148.1h0M362.7 150.4h0M369.8 147.2h0M370.5 149.4h0M376.8 149.4h0M376.3 151.0h0M354.1 151.0h0M356.8 151.5h0M355.7 154.0h0M345.2 154.0h0M369.8 152.1h0M369.0 153.7h0M376.8 154.0h0M356.8 158.8h0M349.2 164.2h0M351.9 162.9h0M355.7 164.5h0M358.9 164.8h0M359.5 169.4h0M362.7 156.9h0M362.2 161.8h0M362.7 166.4h0" stroke="#1e2878" stroke-width="1.9" stroke-linecap="round"/>
<text x="482.30" y="22.20" font-size="6.30" font-style="italic" fill="#333" stroke="#333" stroke-width="0.10">CD74</text>
<text x="414.30" y="61.70" font-size="6.30" font-style="italic" fill="#333" stroke="#333" stroke-width="0.10">HLA−C</text>
<text x="411.20" y="70.20" font-size="6.30" font-style="italic" fill="#333" stroke="#333" stroke-width="0.10">HLA−A</text>
<text x="410.80" y="78.40" font-size="6.30" font-style="italic" fill="#333" stroke="#333" stroke-width="0.10">B2M</text>
<text x="430.10" y="85.40" font-size="6.30" font-style="italic" fill="#333" stroke="#333" stroke-width="0.10">HLA−E</text>
<text x="447.10" y="72.70" font-size="6.30" font-style="italic" fill="#333" stroke="#333" stroke-width="0.10">HLA−B</text>
<text x="465.80" y="59.20" font-size="6.30" font-style="italic" fill="#333" stroke="#333" stroke-width="0.10">HLA−F</text>
<line x1="318.50" y1="15.60" x2="318.50" y2="201.80" stroke="#9a9a9a" stroke-width="1.00"/>
<line x1="318.50" y1="201.30" x2="519.40" y2="201.30" stroke="#9a9a9a" stroke-width="1.00"/>
<line x1="316.10" y1="193.50" x2="318.50" y2="193.50" stroke="#9a9a9a" stroke-width="0.90"/>
<text x="315.50" y="195.90" font-size="6.80" text-anchor="end" fill="#5a5a5a" stroke="#5a5a5a" stroke-width="0.05">0</text>
<line x1="316.10" y1="139.20" x2="318.50" y2="139.20" stroke="#9a9a9a" stroke-width="0.90"/>
<text x="315.50" y="141.60" font-size="6.80" text-anchor="end" fill="#5a5a5a" stroke="#5a5a5a" stroke-width="0.05">5</text>
<line x1="316.10" y1="84.90" x2="318.50" y2="84.90" stroke="#9a9a9a" stroke-width="0.90"/>
<text x="315.50" y="87.30" font-size="6.80" text-anchor="end" fill="#5a5a5a" stroke="#5a5a5a" stroke-width="0.05">10</text>
<line x1="316.10" y1="30.60" x2="318.50" y2="30.60" stroke="#9a9a9a" stroke-width="0.90"/>
<text x="315.50" y="33.00" font-size="6.80" text-anchor="end" fill="#5a5a5a" stroke="#5a5a5a" stroke-width="0.05">15</text>
<line x1="348.40" y1="201.30" x2="348.40" y2="203.70" stroke="#9a9a9a" stroke-width="0.90"/>
<text x="348.40" y="209.70" font-size="6.80" text-anchor="middle" fill="#5a5a5a" stroke="#5a5a5a" stroke-width="0.05">−2</text>
<line x1="390.20" y1="201.30" x2="390.20" y2="203.70" stroke="#9a9a9a" stroke-width="0.90"/>
<text x="390.20" y="209.70" font-size="6.80" text-anchor="middle" fill="#5a5a5a" stroke="#5a5a5a" stroke-width="0.05">0</text>
<line x1="432.00" y1="201.30" x2="432.00" y2="203.70" stroke="#9a9a9a" stroke-width="0.90"/>
<text x="432.00" y="209.70" font-size="6.80" text-anchor="middle" fill="#5a5a5a" stroke="#5a5a5a" stroke-width="0.05">2</text>
<line x1="473.80" y1="201.30" x2="473.80" y2="203.70" stroke="#9a9a9a" stroke-width="0.90"/>
<text x="473.80" y="209.70" font-size="6.80" text-anchor="middle" fill="#5a5a5a" stroke="#5a5a5a" stroke-width="0.05">4</text>
<line x1="515.60" y1="201.30" x2="515.60" y2="203.70" stroke="#9a9a9a" stroke-width="0.90"/>
<text x="515.60" y="209.70" font-size="6.80" text-anchor="middle" fill="#5a5a5a" stroke="#5a5a5a" stroke-width="0.05">6</text>
<text x="398.5" y="218.3" font-size="7.95" fill="#222" stroke="#222" stroke-width="0.15">log<tspan font-size="5" dy="1.6">2</tspan><tspan dy="-1.6">FoldChange</tspan></text>
<text x="0" y="0" font-size="8.2" fill="#222" stroke="#222" stroke-width="0.15" text-anchor="middle" transform="translate(304.2 110.4) rotate(-90)">−log<tspan font-size="5" dy="1.6">10</tspan><tspan dy="-1.6">(p-value)</tspan></text>
<text x="514.90" y="195.50" font-size="8.10" text-anchor="end" fill="#222" stroke="#222" stroke-width="0.08">FDR&lt;0.10</text>
<text x="1.60" y="256.60" font-size="14.20" font-weight="bold" fill="#111">C</text>
<text x="26.9" y="258.8" font-size="7.25" fill="#222">Upregulated Pathways −log<tspan font-size="3.8" dx="0.6" dy="2.0">10</tspan><tspan dx="0.4" dy="-2.0">(p−Value)</tspan></text>
<line x1="93.79" y1="268.70" x2="93.79" y2="373.20" stroke="#ececec" stroke-width="0.60"/>
<line x1="161.08" y1="268.70" x2="161.08" y2="373.20" stroke="#ececec" stroke-width="0.60"/>
<line x1="228.37" y1="268.70" x2="228.37" y2="373.20" stroke="#ececec" stroke-width="0.60"/>
<line x1="26.50" y1="268.70" x2="283.30" y2="268.70" stroke="#b5b5b5" stroke-width="0.90"/>
<text x="26.50" y="267.60" font-size="4.90" text-anchor="middle" fill="#666" stroke="#666" stroke-width="0.10">0</text>
<text x="93.79" y="267.60" font-size="4.90" text-anchor="middle" fill="#666" stroke="#666" stroke-width="0.10">3</text>
<text x="161.08" y="267.60" font-size="4.90" text-anchor="middle" fill="#666" stroke="#666" stroke-width="0.10">6</text>
<text x="228.37" y="267.60" font-size="4.90" text-anchor="middle" fill="#666" stroke="#666" stroke-width="0.10">9</text>
<rect x="26.50" y="269.20" width="233.40" height="9.40" fill="#3a4a8d"/>
<text x="28.80" y="276.90" font-size="6.80" fill="#fff">Antigen Processing Cross Presentation</text>
<rect x="26.50" y="279.69" width="200.20" height="9.40" fill="#3a4a8d"/>
<text x="28.80" y="287.39" font-size="6.80" fill="#fff">Adaptive Immune Response</text>
<rect x="26.50" y="290.18" width="152.30" height="9.40" fill="#3a4a8d"/>
<text x="28.80" y="297.88" font-size="6.80" fill="#fff">Interferon α β Signaling</text>
<rect x="26.50" y="300.67" width="131.60" height="9.40" fill="#3a4a8d"/>
<text x="28.80" y="308.37" font-size="6.80" fill="#fff">Cytokine Signaling in Immune System</text>
<rect x="26.50" y="311.16" width="118.60" height="9.40" fill="#3a4a8d"/>
<text x="28.80" y="318.86" font-size="6.80" fill="#fff">Unsat. Fatty Acid Metabolic Process</text>
<rect x="26.50" y="321.65" width="109.30" height="9.40" fill="#3a4a8d"/>
<text x="28.80" y="329.35" font-size="6.80" fill="#fff">Regulation of Exocytosis</text>
<rect x="26.50" y="332.14" width="72.40" height="9.40" fill="#3a4a8d"/>
<text x="28.80" y="339.84" font-size="6.80" fill="#fff">Chemokine Production</text>
<rect x="26.50" y="342.63" width="71.80" height="9.40" fill="#3a4a8d"/>
<text x="28.80" y="350.33" font-size="6.80" fill="#fff">NF-κB Signaling</text>
<rect x="26.50" y="353.12" width="67.80" height="9.40" fill="#3a4a8d"/>
<text x="28.80" y="360.82" font-size="6.80" fill="#fff">Lipid Biosynthesis</text>
<rect x="26.50" y="363.61" width="59.30" height="9.40" fill="#3a4a8d"/>
<text x="28.80" y="371.31" font-size="6.80" fill="#fff">GABA Synthesis</text>
<text x="26.8" y="390.2" font-size="7.25" fill="#222">Downregulated Pathways −log<tspan font-size="3.8" dx="0.6" dy="2.0">10</tspan><tspan dx="0.4" dy="-2.0">(p−Value)</tspan></text>
<line x1="129.40" y1="399.80" x2="129.40" y2="504.00" stroke="#ececec" stroke-width="0.60"/>
<line x1="232.30" y1="399.80" x2="232.30" y2="504.00" stroke="#ececec" stroke-width="0.60"/>
<line x1="26.50" y1="399.70" x2="283.30" y2="399.70" stroke="#b5b5b5" stroke-width="0.90"/>
<text x="26.50" y="398.60" font-size="4.90" text-anchor="middle" fill="#666" stroke="#666" stroke-width="0.10">0</text>
<text x="129.40" y="398.60" font-size="4.90" text-anchor="middle" fill="#666" stroke="#666" stroke-width="0.10">3</text>
<text x="232.30" y="398.60" font-size="4.90" text-anchor="middle" fill="#666" stroke="#666" stroke-width="0.10">6</text>
<rect x="26.50" y="400.30" width="215.00" height="9.40" fill="#7b9ac8"/>
<text x="28.80" y="408.00" font-size="6.80" fill="#fff">Oxidative Phosphorylation</text>
<rect x="26.50" y="410.86" width="166.80" height="9.40" fill="#7b9ac8"/>
<text x="28.80" y="418.56" font-size="6.80" fill="#fff">Metallothioneins Bind Metals</text>
<rect x="26.50" y="421.42" width="154.50" height="9.40" fill="#7b9ac8"/>
<text x="28.80" y="429.12" font-size="6.80" fill="#fff">Response to Copper Ion</text>
<rect x="26.50" y="431.98" width="143.30" height="9.40" fill="#7b9ac8"/>
<text x="28.80" y="439.68" font-size="6.80" fill="#fff">HSF1 Activation</text>
<rect x="26.50" y="442.54" width="141.70" height="9.40" fill="#7b9ac8"/>
<text x="28.80" y="450.24" font-size="6.80" fill="#fff">TRiC/CCT Tubulin Folding</text>
<rect x="26.50" y="453.10" width="138.10" height="9.40" fill="#7b9ac8"/>
<text x="28.80" y="460.80" font-size="6.80" fill="#fff">Response to Zinc Ion</text>
<rect x="26.50" y="463.66" width="128.60" height="9.40" fill="#7b9ac8"/>
<text x="28.80" y="471.36" font-size="6.80" fill="#fff">Antioxidant Activity</text>
<rect x="26.50" y="474.22" width="115.60" height="9.40" fill="#7b9ac8"/>
<text x="28.80" y="481.92" font-size="6.80" fill="#fff">Golgi to ER Retrograde Traffic</text>
<rect x="26.50" y="484.78" width="100.40" height="9.40" fill="#7b9ac8"/>
<text x="28.80" y="492.48" font-size="6.80" fill="#fff">Gap Junction Trafficking</text>
<rect x="26.50" y="495.34" width="87.30" height="9.40" fill="#7b9ac8"/>
<text x="28.80" y="503.04" font-size="6.80" fill="#fff">Cell Oxidant Detoxification</text>
<text x="298.40" y="258.50" font-size="14.20" font-weight="bold" fill="#111">D</text>
<text x="336.90" y="254.50" font-size="5.30" font-weight="bold" fill="#111">HLA-A</text>
<rect x="336.50" y="255.40" width="44.00" height="64.10" fill="none" stroke="#b4b4b4" stroke-width="0.9"/>
<line x1="334.70" y1="301.40" x2="336.50" y2="301.40" stroke="#777" stroke-width="0.60"/>
<text x="334.40" y="303.20" font-size="4.90" text-anchor="end" fill="#333" stroke="#333" stroke-width="0.12">500</text>
<line x1="334.70" y1="282.90" x2="336.50" y2="282.90" stroke="#777" stroke-width="0.60"/>
<text x="334.40" y="284.70" font-size="4.90" text-anchor="end" fill="#333" stroke="#333" stroke-width="0.12">1000</text>
<line x1="334.70" y1="264.80" x2="336.50" y2="264.80" stroke="#777" stroke-width="0.60"/>
<text x="334.40" y="266.60" font-size="4.90" text-anchor="end" fill="#333" stroke="#333" stroke-width="0.12">1500</text>
<text x="0" y="0" font-size="5.6" fill="#222" stroke="#222" stroke-width="0.12" text-anchor="middle" transform="translate(322.50 290.65) rotate(-90)">TPM</text>
<line x1="344.99" y1="319.50" x2="344.99" y2="321.10" stroke="#777" stroke-width="0.60"/>
<text x="0" y="0" font-size="6.0" fill="#111" stroke="#111" stroke-width="0.15" text-anchor="end" transform="translate(347.59 323.40) rotate(-45)">ND</text>
<line x1="358.50" y1="319.50" x2="358.50" y2="321.10" stroke="#777" stroke-width="0.60"/>
<text x="0" y="0" font-size="6.0" fill="#111" stroke="#111" stroke-width="0.15" text-anchor="end" transform="translate(361.10 323.40) rotate(-45)">AAb+</text>
<line x1="372.01" y1="319.50" x2="372.01" y2="321.10" stroke="#777" stroke-width="0.60"/>
<text x="0" y="0" font-size="6.0" fill="#111" stroke="#111" stroke-width="0.15" text-anchor="end" transform="translate(374.61 323.40) rotate(-45)">T1D</text>
<line x1="344.99" y1="309.80" x2="344.99" y2="313.90" stroke="#888" stroke-width="0.50"/>
<line x1="344.99" y1="315.90" x2="344.99" y2="316.80" stroke="#888" stroke-width="0.50"/>
<rect x="339.39" y="313.90" width="11.20" height="2.00" fill="#d4d4d4" stroke="#8a8a8a" stroke-width="0.5"/>
<line x1="339.39" y1="314.90" x2="350.59" y2="314.90" stroke="#333" stroke-width="0.90"/>
<circle cx="345.29" cy="310.50" r="1.3" fill="none" stroke="#7a7a7a" stroke-width="0.6"/>
<line x1="343.09" y1="310.50" x2="347.29" y2="310.50" stroke="#7a7a7a" stroke-width="0.50"/>
<circle cx="345.29" cy="313.00" r="1.3" fill="none" stroke="#7a7a7a" stroke-width="0.6"/>
<line x1="343.09" y1="313.00" x2="347.29" y2="313.00" stroke="#7a7a7a" stroke-width="0.50"/>
<circle cx="345.29" cy="317.00" r="1.3" fill="none" stroke="#7a7a7a" stroke-width="0.6"/>
<line x1="343.09" y1="317.00" x2="347.29" y2="317.00" stroke="#7a7a7a" stroke-width="0.50"/>
<rect x="339.39" y="313.70" width="11.20" height="2.40" fill="#8a8a8a"/>
<ellipse cx="344.99" cy="314.90" rx="1.25" ry="2.80" fill="#111"/>
<line x1="358.50" y1="308.50" x2="358.50" y2="313.60" stroke="#888" stroke-width="0.50"/>
<line x1="358.50" y1="315.80" x2="358.50" y2="316.80" stroke="#888" stroke-width="0.50"/>
<rect x="352.90" y="313.60" width="11.20" height="2.20" fill="#d4d4d4" stroke="#8a8a8a" stroke-width="0.5"/>
<line x1="352.90" y1="314.70" x2="364.10" y2="314.70" stroke="#333" stroke-width="0.90"/>
<circle cx="358.80" cy="307.20" r="1.3" fill="none" stroke="#7a7a7a" stroke-width="0.6"/>
<line x1="356.60" y1="307.20" x2="360.80" y2="307.20" stroke="#7a7a7a" stroke-width="0.50"/>
<circle cx="358.80" cy="309.50" r="1.3" fill="none" stroke="#7a7a7a" stroke-width="0.6"/>
<line x1="356.60" y1="309.50" x2="360.80" y2="309.50" stroke="#7a7a7a" stroke-width="0.50"/>
<circle cx="358.80" cy="312.00" r="1.3" fill="none" stroke="#7a7a7a" stroke-width="0.6"/>
<line x1="356.60" y1="312.00" x2="360.80" y2="312.00" stroke="#7a7a7a" stroke-width="0.50"/>
<rect x="352.90" y="313.40" width="11.20" height="2.60" fill="#8a8a8a"/>
<ellipse cx="358.50" cy="314.70" rx="1.25" ry="2.90" fill="#111"/>
<line x1="372.01" y1="261.10" x2="372.01" y2="280.30" stroke="#888" stroke-width="0.50"/>
<line x1="372.01" y1="308.30" x2="372.01" y2="315.00" stroke="#888" stroke-width="0.50"/>
<rect x="366.41" y="280.30" width="11.20" height="28.00" fill="#d4d4d4" stroke="#8a8a8a" stroke-width="0.5"/>
<line x1="366.41" y1="297.20" x2="377.61" y2="297.20" stroke="#333" stroke-width="0.90"/>
<circle cx="372.31" cy="261.10" r="1.3" fill="none" stroke="#7a7a7a" stroke-width="0.6"/>
<line x1="370.11" y1="261.10" x2="374.31" y2="261.10" stroke="#7a7a7a" stroke-width="0.50"/>
<circle cx="372.31" cy="276.00" r="1.3" fill="none" stroke="#7a7a7a" stroke-width="0.6"/>
<line x1="370.11" y1="276.00" x2="374.31" y2="276.00" stroke="#7a7a7a" stroke-width="0.50"/>
<circle cx="372.31" cy="277.50" r="1.3" fill="none" stroke="#7a7a7a" stroke-width="0.6"/>
<line x1="370.11" y1="277.50" x2="374.31" y2="277.50" stroke="#7a7a7a" stroke-width="0.50"/>
<circle cx="372.31" cy="297.00" r="1.3" fill="none" stroke="#7a7a7a" stroke-width="0.6"/>
<line x1="370.11" y1="297.00" x2="374.31" y2="297.00" stroke="#7a7a7a" stroke-width="0.50"/>
<circle cx="372.31" cy="298.50" r="1.3" fill="none" stroke="#7a7a7a" stroke-width="0.6"/>
<line x1="370.11" y1="298.50" x2="374.31" y2="298.50" stroke="#7a7a7a" stroke-width="0.50"/>
<circle cx="372.31" cy="308.30" r="1.3" fill="none" stroke="#7a7a7a" stroke-width="0.6"/>
<line x1="370.11" y1="308.30" x2="374.31" y2="308.30" stroke="#7a7a7a" stroke-width="0.50"/>
<circle cx="372.31" cy="315.00" r="1.3" fill="none" stroke="#7a7a7a" stroke-width="0.6"/>
<line x1="370.11" y1="315.00" x2="374.31" y2="315.00" stroke="#7a7a7a" stroke-width="0.50"/>
<line x1="344.49" y1="259.20" x2="372.51" y2="259.20" stroke="#8a8a8a" stroke-width="0.60"/>
<line x1="372.51" y1="259.20" x2="372.51" y2="260.70" stroke="#8a8a8a" stroke-width="0.60"/>
<text x="358.50" y="261.40" font-size="5.40" text-anchor="middle" fill="#555" stroke="#555" stroke-width="0.05">**</text>
<line x1="344.49" y1="305.40" x2="359.00" y2="305.40" stroke="#8a8a8a" stroke-width="0.60"/>
<line x1="359.00" y1="305.40" x2="359.00" y2="306.90" stroke="#8a8a8a" stroke-width="0.60"/>
<text x="351.75" y="307.60" font-size="5.40" text-anchor="middle" fill="#555" stroke="#555" stroke-width="0.05">*</text>
<text x="402.60" y="254.50" font-size="5.30" font-weight="bold" fill="#111">HLA-B</text>
<rect x="402.20" y="255.40" width="44.60" height="64.10" fill="none" stroke="#b4b4b4" stroke-width="0.9"/>
<line x1="400.40" y1="317.20" x2="402.20" y2="317.20" stroke="#777" stroke-width="0.60"/>
<text x="400.10" y="319.00" font-size="4.90" text-anchor="end" fill="#333" stroke="#333" stroke-width="0.12">0</text>
<line x1="400.40" y1="302.20" x2="402.20" y2="302.20" stroke="#777" stroke-width="0.60"/>
<text x="400.10" y="304.00" font-size="4.90" text-anchor="end" fill="#333" stroke="#333" stroke-width="0.12">500</text>
<line x1="400.40" y1="287.20" x2="402.20" y2="287.20" stroke="#777" stroke-width="0.60"/>
<text x="400.10" y="289.00" font-size="4.90" text-anchor="end" fill="#333" stroke="#333" stroke-width="0.12">1000</text>
<line x1="400.40" y1="272.30" x2="402.20" y2="272.30" stroke="#777" stroke-width="0.60"/>
<text x="400.10" y="274.10" font-size="4.90" text-anchor="end" fill="#333" stroke="#333" stroke-width="0.12">1500</text>
<line x1="410.81" y1="319.50" x2="410.81" y2="321.10" stroke="#777" stroke-width="0.60"/>
<text x="0" y="0" font-size="6.0" fill="#111" stroke="#111" stroke-width="0.15" text-anchor="end" transform="translate(413.41 323.40) rotate(-45)">ND</text>
<line x1="424.50" y1="319.50" x2="424.50" y2="321.10" stroke="#777" stroke-width="0.60"/>
<text x="0" y="0" font-size="6.0" fill="#111" stroke="#111" stroke-width="0.15" text-anchor="end" transform="translate(427.10 323.40) rotate(-45)">AAb+</text>
<line x1="438.19" y1="319.50" x2="438.19" y2="321.10" stroke="#777" stroke-width="0.60"/>
<text x="0" y="0" font-size="6.0" fill="#111" stroke="#111" stroke-width="0.15" text-anchor="end" transform="translate(440.79 323.40) rotate(-45)">T1D</text>
<line x1="410.81" y1="311.50" x2="410.81" y2="315.00" stroke="#888" stroke-width="0.50"/>
<line x1="410.81" y1="316.40" x2="410.81" y2="317.00" stroke="#888" stroke-width="0.50"/>
<rect x="405.21" y="315.00" width="11.20" height="1.40" fill="#d4d4d4" stroke="#8a8a8a" stroke-width="0.5"/>
<line x1="405.21" y1="315.70" x2="416.41" y2="315.70" stroke="#333" stroke-width="0.90"/>
<circle cx="411.11" cy="311.00" r="1.3" fill="none" stroke="#7a7a7a" stroke-width="0.6"/>
<line x1="408.91" y1="311.00" x2="413.11" y2="311.00" stroke="#7a7a7a" stroke-width="0.50"/>
<circle cx="411.11" cy="313.00" r="1.3" fill="none" stroke="#7a7a7a" stroke-width="0.6"/>
<line x1="408.91" y1="313.00" x2="413.11" y2="313.00" stroke="#7a7a7a" stroke-width="0.50"/>
<rect x="405.21" y="314.80" width="11.20" height="1.80" fill="#8a8a8a"/>
<ellipse cx="410.81" cy="315.70" rx="1.25" ry="2.50" fill="#111"/>
<line x1="424.50" y1="311.80" x2="424.50" y2="314.80" stroke="#888" stroke-width="0.50"/>
<line x1="424.50" y1="316.20" x2="424.50" y2="317.00" stroke="#888" stroke-width="0.50"/>
<rect x="418.90" y="314.80" width="11.20" height="1.40" fill="#d4d4d4" stroke="#8a8a8a" stroke-width="0.5"/>
<line x1="418.90" y1="315.50" x2="430.10" y2="315.50" stroke="#333" stroke-width="0.90"/>
<circle cx="424.80" cy="312.00" r="1.3" fill="none" stroke="#7a7a7a" stroke-width="0.6"/>
<line x1="422.60" y1="312.00" x2="426.80" y2="312.00" stroke="#7a7a7a" stroke-width="0.50"/>
<circle cx="424.80" cy="308.20" r="1.3" fill="none" stroke="#7a7a7a" stroke-width="0.6"/>
<line x1="422.60" y1="308.20" x2="426.80" y2="308.20" stroke="#7a7a7a" stroke-width="0.50"/>
<rect x="418.90" y="314.60" width="11.20" height="1.80" fill="#8a8a8a"/>
<ellipse cx="424.50" cy="315.50" rx="1.25" ry="2.50" fill="#111"/>
<line x1="438.19" y1="261.40" x2="438.19" y2="283.10" stroke="#888" stroke-width="0.50"/>
<line x1="438.19" y1="308.50" x2="438.19" y2="317.20" stroke="#888" stroke-width="0.50"/>
<rect x="432.59" y="283.10" width="11.20" height="25.40" fill="#d4d4d4" stroke="#8a8a8a" stroke-width="0.5"/>
<line x1="432.59" y1="296.50" x2="443.79" y2="296.50" stroke="#333" stroke-width="0.90"/>
<circle cx="438.49" cy="261.40" r="1.3" fill="none" stroke="#7a7a7a" stroke-width="0.6"/>
<line x1="436.29" y1="261.40" x2="440.49" y2="261.40" stroke="#7a7a7a" stroke-width="0.50"/>
<circle cx="438.49" cy="283.10" r="1.3" fill="none" stroke="#7a7a7a" stroke-width="0.6"/>
<line x1="436.29" y1="283.10" x2="440.49" y2="283.10" stroke="#7a7a7a" stroke-width="0.50"/>
<circle cx="438.49" cy="289.00" r="1.3" fill="none" stroke="#7a7a7a" stroke-width="0.6"/>
<line x1="436.29" y1="289.00" x2="440.49" y2="289.00" stroke="#7a7a7a" stroke-width="0.50"/>
<circle cx="438.49" cy="291.00" r="1.3" fill="none" stroke="#7a7a7a" stroke-width="0.6"/>
<line x1="436.29" y1="291.00" x2="440.49" y2="291.00" stroke="#7a7a7a" stroke-width="0.50"/>
<circle cx="438.49" cy="302.00" r="1.3" fill="none" stroke="#7a7a7a" stroke-width="0.6"/>
<line x1="436.29" y1="302.00" x2="440.49" y2="302.00" stroke="#7a7a7a" stroke-width="0.50"/>
<circle cx="438.49" cy="308.50" r="1.3" fill="none" stroke="#7a7a7a" stroke-width="0.6"/>
<line x1="436.29" y1="308.50" x2="440.49" y2="308.50" stroke="#7a7a7a" stroke-width="0.50"/>
<circle cx="438.49" cy="313.50" r="1.3" fill="none" stroke="#7a7a7a" stroke-width="0.6"/>
<line x1="436.29" y1="313.50" x2="440.49" y2="313.50" stroke="#7a7a7a" stroke-width="0.50"/>
<line x1="410.31" y1="258.70" x2="438.69" y2="258.70" stroke="#8a8a8a" stroke-width="0.60"/>
<line x1="438.69" y1="258.70" x2="438.69" y2="260.20" stroke="#8a8a8a" stroke-width="0.60"/>
<text x="424.50" y="260.90" font-size="5.40" text-anchor="middle" fill="#555" stroke="#555" stroke-width="0.05">**</text>
<line x1="410.31" y1="305.20" x2="425.00" y2="305.20" stroke="#8a8a8a" stroke-width="0.60"/>
<line x1="425.00" y1="305.20" x2="425.00" y2="306.70" stroke="#8a8a8a" stroke-width="0.60"/>
<text x="417.65" y="307.40" font-size="5.40" text-anchor="middle" fill="#555" stroke="#555" stroke-width="0.05">*</text>
<text x="471.20" y="254.50" font-size="5.30" font-weight="bold" fill="#111">HLA-C</text>
<rect x="470.80" y="255.40" width="44.60" height="64.10" fill="none" stroke="#b4b4b4" stroke-width="0.9"/>
<line x1="469.00" y1="318.60" x2="470.80" y2="318.60" stroke="#777" stroke-width="0.60"/>
<text x="468.70" y="320.40" font-size="4.90" text-anchor="end" fill="#333" stroke="#333" stroke-width="0.12">0</text>
<line x1="469.00" y1="310.10" x2="470.80" y2="310.10" stroke="#777" stroke-width="0.60"/>
<text x="468.70" y="311.90" font-size="4.90" text-anchor="end" fill="#333" stroke="#333" stroke-width="0.12">200</text>
<line x1="469.00" y1="301.40" x2="470.80" y2="301.40" stroke="#777" stroke-width="0.60"/>
<text x="468.70" y="303.20" font-size="4.90" text-anchor="end" fill="#333" stroke="#333" stroke-width="0.12">400</text>
<line x1="469.00" y1="292.80" x2="470.80" y2="292.80" stroke="#777" stroke-width="0.60"/>
<text x="468.70" y="294.60" font-size="4.90" text-anchor="end" fill="#333" stroke="#333" stroke-width="0.12">600</text>
<line x1="469.00" y1="284.40" x2="470.80" y2="284.40" stroke="#777" stroke-width="0.60"/>
<text x="468.70" y="286.20" font-size="4.90" text-anchor="end" fill="#333" stroke="#333" stroke-width="0.12">800</text>
<line x1="469.00" y1="275.70" x2="470.80" y2="275.70" stroke="#777" stroke-width="0.60"/>
<text x="468.70" y="277.50" font-size="4.90" text-anchor="end" fill="#333" stroke="#333" stroke-width="0.12">1000</text>
<line x1="469.00" y1="267.10" x2="470.80" y2="267.10" stroke="#777" stroke-width="0.60"/>
<text x="468.70" y="268.90" font-size="4.90" text-anchor="end" fill="#333" stroke="#333" stroke-width="0.12">1200</text>
<line x1="479.41" y1="319.50" x2="479.41" y2="321.10" stroke="#777" stroke-width="0.60"/>
<text x="0" y="0" font-size="6.0" fill="#111" stroke="#111" stroke-width="0.15" text-anchor="end" transform="translate(482.01 323.40) rotate(-45)">ND</text>
<line x1="493.10" y1="319.50" x2="493.10" y2="321.10" stroke="#777" stroke-width="0.60"/>
<text x="0" y="0" font-size="6.0" fill="#111" stroke="#111" stroke-width="0.15" text-anchor="end" transform="translate(495.70 323.40) rotate(-45)">AAb+</text>
<line x1="506.79" y1="319.50" x2="506.79" y2="321.10" stroke="#777" stroke-width="0.60"/>
<text x="0" y="0" font-size="6.0" fill="#111" stroke="#111" stroke-width="0.15" text-anchor="end" transform="translate(509.39 323.40) rotate(-45)">T1D</text>
<line x1="479.41" y1="309.80" x2="479.41" y2="313.60" stroke="#888" stroke-width="0.50"/>
<line x1="479.41" y1="316.00" x2="479.41" y2="318.60" stroke="#888" stroke-width="0.50"/>
<rect x="473.81" y="313.60" width="11.20" height="2.40" fill="#d4d4d4" stroke="#8a8a8a" stroke-width="0.5"/>
<line x1="473.81" y1="314.90" x2="485.01" y2="314.90" stroke="#333" stroke-width="0.90"/>
<circle cx="479.71" cy="310.50" r="1.3" fill="none" stroke="#7a7a7a" stroke-width="0.6"/>
<line x1="477.51" y1="310.50" x2="481.71" y2="310.50" stroke="#7a7a7a" stroke-width="0.50"/>
<circle cx="479.71" cy="312.00" r="1.3" fill="none" stroke="#7a7a7a" stroke-width="0.6"/>
<line x1="477.51" y1="312.00" x2="481.71" y2="312.00" stroke="#7a7a7a" stroke-width="0.50"/>
<rect x="473.81" y="313.40" width="11.20" height="2.80" fill="#8a8a8a"/>
<ellipse cx="479.41" cy="314.80" rx="1.25" ry="3.00" fill="#111"/>
<line x1="493.10" y1="311.00" x2="493.10" y2="313.30" stroke="#888" stroke-width="0.50"/>
<line x1="493.10" y1="314.80" x2="493.10" y2="316.50" stroke="#888" stroke-width="0.50"/>
<rect x="487.50" y="313.30" width="11.20" height="1.50" fill="#d4d4d4" stroke="#8a8a8a" stroke-width="0.5"/>
<line x1="487.50" y1="314.00" x2="498.70" y2="314.00" stroke="#333" stroke-width="0.90"/>
<circle cx="493.40" cy="303.20" r="1.3" fill="none" stroke="#7a7a7a" stroke-width="0.6"/>
<line x1="491.20" y1="303.20" x2="495.40" y2="303.20" stroke="#7a7a7a" stroke-width="0.50"/>
<circle cx="493.40" cy="308.00" r="1.3" fill="none" stroke="#7a7a7a" stroke-width="0.6"/>
<line x1="491.20" y1="308.00" x2="495.40" y2="308.00" stroke="#7a7a7a" stroke-width="0.50"/>
<rect x="487.50" y="313.10" width="11.20" height="1.90" fill="#8a8a8a"/>
<ellipse cx="493.10" cy="314.05" rx="1.25" ry="2.55" fill="#111"/>
<line x1="506.79" y1="261.40" x2="506.79" y2="279.80" stroke="#888" stroke-width="0.50"/>
<line x1="506.79" y1="305.70" x2="506.79" y2="314.90" stroke="#888" stroke-width="0.50"/>
<rect x="501.19" y="279.80" width="11.20" height="25.90" fill="#d4d4d4" stroke="#8a8a8a" stroke-width="0.5"/>
<line x1="501.19" y1="297.20" x2="512.39" y2="297.20" stroke="#333" stroke-width="0.90"/>
<circle cx="507.09" cy="261.40" r="1.3" fill="none" stroke="#7a7a7a" stroke-width="0.6"/>
<line x1="504.89" y1="261.40" x2="509.09" y2="261.40" stroke="#7a7a7a" stroke-width="0.50"/>
<circle cx="507.09" cy="266.50" r="1.3" fill="none" stroke="#7a7a7a" stroke-width="0.6"/>
<line x1="504.89" y1="266.50" x2="509.09" y2="266.50" stroke="#7a7a7a" stroke-width="0.50"/>
<circle cx="507.09" cy="279.80" r="1.3" fill="none" stroke="#7a7a7a" stroke-width="0.6"/>
<line x1="504.89" y1="279.80" x2="509.09" y2="279.80" stroke="#7a7a7a" stroke-width="0.50"/>
<circle cx="507.09" cy="291.80" r="1.3" fill="none" stroke="#7a7a7a" stroke-width="0.6"/>
<line x1="504.89" y1="291.80" x2="509.09" y2="291.80" stroke="#7a7a7a" stroke-width="0.50"/>
<circle cx="507.09" cy="304.00" r="1.3" fill="none" stroke="#7a7a7a" stroke-width="0.6"/>
<line x1="504.89" y1="304.00" x2="509.09" y2="304.00" stroke="#7a7a7a" stroke-width="0.50"/>
<circle cx="507.09" cy="305.70" r="1.3" fill="none" stroke="#7a7a7a" stroke-width="0.6"/>
<line x1="504.89" y1="305.70" x2="509.09" y2="305.70" stroke="#7a7a7a" stroke-width="0.50"/>
<circle cx="507.09" cy="314.90" r="1.3" fill="none" stroke="#7a7a7a" stroke-width="0.6"/>
<line x1="504.89" y1="314.90" x2="509.09" y2="314.90" stroke="#7a7a7a" stroke-width="0.50"/>
<line x1="478.91" y1="258.70" x2="507.29" y2="258.70" stroke="#8a8a8a" stroke-width="0.60"/>
<line x1="507.29" y1="258.70" x2="507.29" y2="260.20" stroke="#8a8a8a" stroke-width="0.60"/>
<text x="493.10" y="260.90" font-size="5.40" text-anchor="middle" fill="#555" stroke="#555" stroke-width="0.05">**</text>
<line x1="478.91" y1="301.00" x2="493.60" y2="301.00" stroke="#8a8a8a" stroke-width="0.60"/>
<line x1="493.60" y1="301.00" x2="493.60" y2="302.50" stroke="#8a8a8a" stroke-width="0.60"/>
<text x="486.25" y="303.20" font-size="5.40" text-anchor="middle" fill="#555" stroke="#555" stroke-width="0.05">*</text>
<text x="336.90" y="341.00" font-size="5.30" font-weight="bold" fill="#111">STAT1</text>
<rect x="336.50" y="341.90" width="44.00" height="64.20" fill="none" stroke="#b4b4b4" stroke-width="0.9"/>
<line x1="334.70" y1="403.00" x2="336.50" y2="403.00" stroke="#777" stroke-width="0.60"/>
<text x="334.40" y="404.80" font-size="4.90" text-anchor="end" fill="#333" stroke="#333" stroke-width="0.12">0</text>
<line x1="334.70" y1="386.40" x2="336.50" y2="386.40" stroke="#777" stroke-width="0.60"/>
<text x="334.40" y="388.20" font-size="4.90" text-anchor="end" fill="#333" stroke="#333" stroke-width="0.12">5</text>
<line x1="334.70" y1="369.60" x2="336.50" y2="369.60" stroke="#777" stroke-width="0.60"/>
<text x="334.40" y="371.40" font-size="4.90" text-anchor="end" fill="#333" stroke="#333" stroke-width="0.12">10</text>
<line x1="334.70" y1="352.90" x2="336.50" y2="352.90" stroke="#777" stroke-width="0.60"/>
<text x="334.40" y="354.70" font-size="4.90" text-anchor="end" fill="#333" stroke="#333" stroke-width="0.12">15</text>
<text x="0" y="0" font-size="5.6" fill="#222" stroke="#222" stroke-width="0.12" text-anchor="middle" transform="translate(322.50 377.20) rotate(-90)">TPM</text>
<line x1="344.99" y1="406.10" x2="344.99" y2="407.70" stroke="#777" stroke-width="0.60"/>
<text x="0" y="0" font-size="6.0" fill="#111" stroke="#111" stroke-width="0.15" text-anchor="end" transform="translate(347.59 410.00) rotate(-45)">ND</text>
<line x1="358.50" y1="406.10" x2="358.50" y2="407.70" stroke="#777" stroke-width="0.60"/>
<text x="0" y="0" font-size="6.0" fill="#111" stroke="#111" stroke-width="0.15" text-anchor="end" transform="translate(361.10 410.00) rotate(-45)">AAb+</text>
<line x1="372.01" y1="406.10" x2="372.01" y2="407.70" stroke="#777" stroke-width="0.60"/>
<text x="0" y="0" font-size="6.0" fill="#111" stroke="#111" stroke-width="0.15" text-anchor="end" transform="translate(374.61 410.00) rotate(-45)">T1D</text>
<line x1="344.99" y1="391.50" x2="344.99" y2="397.20" stroke="#888" stroke-width="0.50"/>
<line x1="344.99" y1="400.20" x2="344.99" y2="403.00" stroke="#888" stroke-width="0.50"/>
<rect x="339.39" y="397.20" width="11.20" height="3.00" fill="#d4d4d4" stroke="#8a8a8a" stroke-width="0.5"/>
<line x1="339.39" y1="398.80" x2="350.59" y2="398.80" stroke="#333" stroke-width="0.90"/>
<circle cx="345.29" cy="383.80" r="1.3" fill="none" stroke="#7a7a7a" stroke-width="0.6"/>
<line x1="343.09" y1="383.80" x2="347.29" y2="383.80" stroke="#7a7a7a" stroke-width="0.50"/>
<circle cx="345.29" cy="392.00" r="1.3" fill="none" stroke="#7a7a7a" stroke-width="0.6"/>
<line x1="343.09" y1="392.00" x2="347.29" y2="392.00" stroke="#7a7a7a" stroke-width="0.50"/>
<circle cx="345.29" cy="394.00" r="1.3" fill="none" stroke="#7a7a7a" stroke-width="0.6"/>
<line x1="343.09" y1="394.00" x2="347.29" y2="394.00" stroke="#7a7a7a" stroke-width="0.50"/>
<rect x="339.39" y="397.00" width="11.20" height="3.40" fill="#8a8a8a"/>
<ellipse cx="344.99" cy="398.70" rx="1.25" ry="3.30" fill="#111"/>
<line x1="358.50" y1="395.00" x2="358.50" y2="397.40" stroke="#888" stroke-width="0.50"/>
<line x1="358.50" y1="400.20" x2="358.50" y2="402.00" stroke="#888" stroke-width="0.50"/>
<rect x="352.90" y="397.40" width="11.20" height="2.80" fill="#d4d4d4" stroke="#8a8a8a" stroke-width="0.5"/>
<line x1="352.90" y1="398.60" x2="364.10" y2="398.60" stroke="#333" stroke-width="0.90"/>
<circle cx="358.80" cy="385.20" r="1.3" fill="none" stroke="#7a7a7a" stroke-width="0.6"/>
<line x1="356.60" y1="385.20" x2="360.80" y2="385.20" stroke="#7a7a7a" stroke-width="0.50"/>
<rect x="352.90" y="397.20" width="11.20" height="3.20" fill="#8a8a8a"/>
<ellipse cx="358.50" cy="398.80" rx="1.25" ry="3.20" fill="#111"/>
<line x1="372.01" y1="369.80" x2="372.01" y2="379.80" stroke="#888" stroke-width="0.50"/>
<line x1="372.01" y1="394.90" x2="372.01" y2="403.60" stroke="#888" stroke-width="0.50"/>
<rect x="366.41" y="379.80" width="11.20" height="15.10" fill="#d4d4d4" stroke="#8a8a8a" stroke-width="0.5"/>
<line x1="366.41" y1="389.80" x2="377.61" y2="389.80" stroke="#333" stroke-width="0.90"/>
<circle cx="372.31" cy="347.50" r="1.3" fill="none" stroke="#7a7a7a" stroke-width="0.6"/>
<line x1="370.11" y1="347.50" x2="374.31" y2="347.50" stroke="#7a7a7a" stroke-width="0.50"/>
<circle cx="372.31" cy="369.80" r="1.3" fill="none" stroke="#7a7a7a" stroke-width="0.6"/>
<line x1="370.11" y1="369.80" x2="374.31" y2="369.80" stroke="#7a7a7a" stroke-width="0.50"/>
<circle cx="372.31" cy="381.00" r="1.3" fill="none" stroke="#7a7a7a" stroke-width="0.6"/>
<line x1="370.11" y1="381.00" x2="374.31" y2="381.00" stroke="#7a7a7a" stroke-width="0.50"/>
<circle cx="372.31" cy="386.00" r="1.3" fill="none" stroke="#7a7a7a" stroke-width="0.6"/>
<line x1="370.11" y1="386.00" x2="374.31" y2="386.00" stroke="#7a7a7a" stroke-width="0.50"/>
<circle cx="372.31" cy="389.00" r="1.3" fill="none" stroke="#7a7a7a" stroke-width="0.6"/>
<line x1="370.11" y1="389.00" x2="374.31" y2="389.00" stroke="#7a7a7a" stroke-width="0.50"/>
<circle cx="372.31" cy="394.00" r="1.3" fill="none" stroke="#7a7a7a" stroke-width="0.6"/>
<line x1="370.11" y1="394.00" x2="374.31" y2="394.00" stroke="#7a7a7a" stroke-width="0.50"/>
<circle cx="372.31" cy="398.00" r="1.3" fill="none" stroke="#7a7a7a" stroke-width="0.6"/>
<line x1="370.11" y1="398.00" x2="374.31" y2="398.00" stroke="#7a7a7a" stroke-width="0.50"/>
<circle cx="372.31" cy="403.60" r="1.3" fill="none" stroke="#7a7a7a" stroke-width="0.6"/>
<line x1="370.11" y1="403.60" x2="374.31" y2="403.60" stroke="#7a7a7a" stroke-width="0.50"/>
<line x1="344.49" y1="345.40" x2="372.51" y2="345.40" stroke="#8a8a8a" stroke-width="0.60"/>
<line x1="372.51" y1="345.40" x2="372.51" y2="346.90" stroke="#8a8a8a" stroke-width="0.60"/>
<text x="358.50" y="347.60" font-size="5.40" text-anchor="middle" fill="#555" stroke="#555" stroke-width="0.05">**</text>
<text x="402.60" y="341.00" font-size="5.30" font-weight="bold" fill="#111">IRF1</text>
<rect x="402.20" y="341.90" width="44.60" height="64.20" fill="none" stroke="#b4b4b4" stroke-width="0.9"/>
<line x1="400.40" y1="403.40" x2="402.20" y2="403.40" stroke="#777" stroke-width="0.60"/>
<text x="400.10" y="405.20" font-size="4.90" text-anchor="end" fill="#333" stroke="#333" stroke-width="0.12">0</text>
<line x1="400.40" y1="395.30" x2="402.20" y2="395.30" stroke="#777" stroke-width="0.60"/>
<text x="400.10" y="397.10" font-size="4.90" text-anchor="end" fill="#333" stroke="#333" stroke-width="0.12">5</text>
<line x1="400.40" y1="387.00" x2="402.20" y2="387.00" stroke="#777" stroke-width="0.60"/>
<text x="400.10" y="388.80" font-size="4.90" text-anchor="end" fill="#333" stroke="#333" stroke-width="0.12">10</text>
<line x1="400.40" y1="378.50" x2="402.20" y2="378.50" stroke="#777" stroke-width="0.60"/>
<text x="400.10" y="380.30" font-size="4.90" text-anchor="end" fill="#333" stroke="#333" stroke-width="0.12">15</text>
<line x1="400.40" y1="370.10" x2="402.20" y2="370.10" stroke="#777" stroke-width="0.60"/>
<text x="400.10" y="371.90" font-size="4.90" text-anchor="end" fill="#333" stroke="#333" stroke-width="0.12">20</text>
<line x1="400.40" y1="361.80" x2="402.20" y2="361.80" stroke="#777" stroke-width="0.60"/>
<text x="400.10" y="363.60" font-size="4.90" text-anchor="end" fill="#333" stroke="#333" stroke-width="0.12">25</text>
<line x1="400.40" y1="353.30" x2="402.20" y2="353.30" stroke="#777" stroke-width="0.60"/>
<text x="400.10" y="355.10" font-size="4.90" text-anchor="end" fill="#333" stroke="#333" stroke-width="0.12">30</text>
<line x1="410.81" y1="406.10" x2="410.81" y2="407.70" stroke="#777" stroke-width="0.60"/>
<text x="0" y="0" font-size="6.0" fill="#111" stroke="#111" stroke-width="0.15" text-anchor="end" transform="translate(413.41 410.00) rotate(-45)">ND</text>
<line x1="424.50" y1="406.10" x2="424.50" y2="407.70" stroke="#777" stroke-width="0.60"/>
<text x="0" y="0" font-size="6.0" fill="#111" stroke="#111" stroke-width="0.15" text-anchor="end" transform="translate(427.10 410.00) rotate(-45)">AAb+</text>
<line x1="438.19" y1="406.10" x2="438.19" y2="407.70" stroke="#777" stroke-width="0.60"/>
<text x="0" y="0" font-size="6.0" fill="#111" stroke="#111" stroke-width="0.15" text-anchor="end" transform="translate(440.79 410.00) rotate(-45)">T1D</text>
<line x1="410.81" y1="397.00" x2="410.81" y2="401.00" stroke="#888" stroke-width="0.50"/>
<line x1="410.81" y1="402.60" x2="410.81" y2="403.40" stroke="#888" stroke-width="0.50"/>
<rect x="405.21" y="401.00" width="11.20" height="1.60" fill="#d4d4d4" stroke="#8a8a8a" stroke-width="0.5"/>
<line x1="405.21" y1="401.80" x2="416.41" y2="401.80" stroke="#333" stroke-width="0.90"/>
<circle cx="411.11" cy="396.20" r="1.3" fill="none" stroke="#7a7a7a" stroke-width="0.6"/>
<line x1="408.91" y1="396.20" x2="413.11" y2="396.20" stroke="#7a7a7a" stroke-width="0.50"/>
<rect x="405.21" y="400.80" width="11.20" height="2.00" fill="#8a8a8a"/>
<ellipse cx="410.81" cy="401.80" rx="1.25" ry="2.60" fill="#111"/>
<line x1="424.50" y1="398.00" x2="424.50" y2="400.50" stroke="#888" stroke-width="0.50"/>
<line x1="424.50" y1="402.40" x2="424.50" y2="403.20" stroke="#888" stroke-width="0.50"/>
<rect x="418.90" y="400.50" width="11.20" height="1.90" fill="#d4d4d4" stroke="#8a8a8a" stroke-width="0.5"/>
<line x1="418.90" y1="401.30" x2="430.10" y2="401.30" stroke="#333" stroke-width="0.90"/>
<circle cx="424.80" cy="387.30" r="1.3" fill="none" stroke="#7a7a7a" stroke-width="0.6"/>
<line x1="422.60" y1="387.30" x2="426.80" y2="387.30" stroke="#7a7a7a" stroke-width="0.50"/>
<rect x="418.90" y="400.30" width="11.20" height="2.30" fill="#8a8a8a"/>
<ellipse cx="424.50" cy="401.45" rx="1.25" ry="2.75" fill="#111"/>
<line x1="438.19" y1="389.50" x2="438.19" y2="391.90" stroke="#888" stroke-width="0.50"/>
<line x1="438.19" y1="397.60" x2="438.19" y2="403.40" stroke="#888" stroke-width="0.50"/>
<rect x="432.59" y="391.90" width="11.20" height="5.70" fill="#d4d4d4" stroke="#8a8a8a" stroke-width="0.5"/>
<line x1="432.59" y1="394.40" x2="443.79" y2="394.40" stroke="#333" stroke-width="0.90"/>
<circle cx="438.49" cy="347.70" r="1.3" fill="none" stroke="#7a7a7a" stroke-width="0.6"/>
<line x1="436.29" y1="347.70" x2="440.49" y2="347.70" stroke="#7a7a7a" stroke-width="0.50"/>
<circle cx="438.49" cy="390.00" r="1.3" fill="none" stroke="#7a7a7a" stroke-width="0.6"/>
<line x1="436.29" y1="390.00" x2="440.49" y2="390.00" stroke="#7a7a7a" stroke-width="0.50"/>
<circle cx="438.49" cy="396.00" r="1.3" fill="none" stroke="#7a7a7a" stroke-width="0.6"/>
<line x1="436.29" y1="396.00" x2="440.49" y2="396.00" stroke="#7a7a7a" stroke-width="0.50"/>
<circle cx="438.49" cy="399.50" r="1.3" fill="none" stroke="#7a7a7a" stroke-width="0.6"/>
<line x1="436.29" y1="399.50" x2="440.49" y2="399.50" stroke="#7a7a7a" stroke-width="0.50"/>
<circle cx="438.49" cy="403.30" r="1.3" fill="none" stroke="#7a7a7a" stroke-width="0.6"/>
<line x1="436.29" y1="403.30" x2="440.49" y2="403.30" stroke="#7a7a7a" stroke-width="0.50"/>
<line x1="410.31" y1="345.00" x2="438.69" y2="345.00" stroke="#8a8a8a" stroke-width="0.60"/>
<line x1="438.69" y1="345.00" x2="438.69" y2="346.50" stroke="#8a8a8a" stroke-width="0.60"/>
<text x="424.50" y="347.20" font-size="5.40" text-anchor="middle" fill="#555" stroke="#555" stroke-width="0.05">**</text>
<text x="471.20" y="341.00" font-size="5.30" font-weight="bold" fill="#111">IRF2</text>
<rect x="470.80" y="341.90" width="44.60" height="64.20" fill="none" stroke="#b4b4b4" stroke-width="0.9"/>
<line x1="469.00" y1="403.50" x2="470.80" y2="403.50" stroke="#777" stroke-width="0.60"/>
<text x="468.70" y="405.30" font-size="4.90" text-anchor="end" fill="#333" stroke="#333" stroke-width="0.12">0</text>
<line x1="469.00" y1="385.30" x2="470.80" y2="385.30" stroke="#777" stroke-width="0.60"/>
<text x="468.70" y="387.10" font-size="4.90" text-anchor="end" fill="#333" stroke="#333" stroke-width="0.12">5</text>
<line x1="469.00" y1="367.00" x2="470.80" y2="367.00" stroke="#777" stroke-width="0.60"/>
<text x="468.70" y="368.80" font-size="4.90" text-anchor="end" fill="#333" stroke="#333" stroke-width="0.12">10</text>
<line x1="469.00" y1="348.00" x2="470.80" y2="348.00" stroke="#777" stroke-width="0.60"/>
<text x="468.70" y="349.80" font-size="4.90" text-anchor="end" fill="#333" stroke="#333" stroke-width="0.12">15</text>
<line x1="479.41" y1="406.10" x2="479.41" y2="407.70" stroke="#777" stroke-width="0.60"/>
<text x="0" y="0" font-size="6.0" fill="#111" stroke="#111" stroke-width="0.15" text-anchor="end" transform="translate(482.01 410.00) rotate(-45)">ND</text>
<line x1="493.10" y1="406.10" x2="493.10" y2="407.70" stroke="#777" stroke-width="0.60"/>
<text x="0" y="0" font-size="6.0" fill="#111" stroke="#111" stroke-width="0.15" text-anchor="end" transform="translate(495.70 410.00) rotate(-45)">AAb+</text>
<line x1="506.79" y1="406.10" x2="506.79" y2="407.70" stroke="#777" stroke-width="0.60"/>
<text x="0" y="0" font-size="6.0" fill="#111" stroke="#111" stroke-width="0.15" text-anchor="end" transform="translate(509.39 410.00) rotate(-45)">T1D</text>
<line x1="479.41" y1="381.70" x2="479.41" y2="390.90" stroke="#888" stroke-width="0.50"/>
<line x1="479.41" y1="399.40" x2="479.41" y2="403.00" stroke="#888" stroke-width="0.50"/>
<rect x="473.81" y="390.90" width="11.20" height="8.50" fill="#d4d4d4" stroke="#8a8a8a" stroke-width="0.5"/>
<line x1="473.81" y1="396.80" x2="485.01" y2="396.80" stroke="#333" stroke-width="0.90"/>
<circle cx="479.71" cy="376.50" r="1.3" fill="none" stroke="#7a7a7a" stroke-width="0.6"/>
<line x1="477.51" y1="376.50" x2="481.71" y2="376.50" stroke="#7a7a7a" stroke-width="0.50"/>
<circle cx="479.71" cy="381.70" r="1.3" fill="none" stroke="#7a7a7a" stroke-width="0.6"/>
<line x1="477.51" y1="381.70" x2="481.71" y2="381.70" stroke="#7a7a7a" stroke-width="0.50"/>
<circle cx="479.71" cy="388.00" r="1.3" fill="none" stroke="#7a7a7a" stroke-width="0.6"/>
<line x1="477.51" y1="388.00" x2="481.71" y2="388.00" stroke="#7a7a7a" stroke-width="0.50"/>
<circle cx="479.71" cy="392.00" r="1.3" fill="none" stroke="#7a7a7a" stroke-width="0.6"/>
<line x1="477.51" y1="392.00" x2="481.71" y2="392.00" stroke="#7a7a7a" stroke-width="0.50"/>
<circle cx="479.71" cy="395.00" r="1.3" fill="none" stroke="#7a7a7a" stroke-width="0.6"/>
<line x1="477.51" y1="395.00" x2="481.71" y2="395.00" stroke="#7a7a7a" stroke-width="0.50"/>
<circle cx="479.71" cy="398.00" r="1.3" fill="none" stroke="#7a7a7a" stroke-width="0.6"/>
<line x1="477.51" y1="398.00" x2="481.71" y2="398.00" stroke="#7a7a7a" stroke-width="0.50"/>
<circle cx="479.71" cy="401.00" r="1.3" fill="none" stroke="#7a7a7a" stroke-width="0.6"/>
<line x1="477.51" y1="401.00" x2="481.71" y2="401.00" stroke="#7a7a7a" stroke-width="0.50"/>
<line x1="493.10" y1="377.80" x2="493.10" y2="389.20" stroke="#888" stroke-width="0.50"/>
<line x1="493.10" y1="397.30" x2="493.10" y2="401.00" stroke="#888" stroke-width="0.50"/>
<rect x="487.50" y="389.20" width="11.20" height="8.10" fill="#d4d4d4" stroke="#8a8a8a" stroke-width="0.5"/>
<line x1="487.50" y1="394.50" x2="498.70" y2="394.50" stroke="#333" stroke-width="0.90"/>
<circle cx="493.40" cy="377.80" r="1.3" fill="none" stroke="#7a7a7a" stroke-width="0.6"/>
<line x1="491.20" y1="377.80" x2="495.40" y2="377.80" stroke="#7a7a7a" stroke-width="0.50"/>
<circle cx="493.40" cy="384.00" r="1.3" fill="none" stroke="#7a7a7a" stroke-width="0.6"/>
<line x1="491.20" y1="384.00" x2="495.40" y2="384.00" stroke="#7a7a7a" stroke-width="0.50"/>
<circle cx="493.40" cy="387.00" r="1.3" fill="none" stroke="#7a7a7a" stroke-width="0.6"/>
<line x1="491.20" y1="387.00" x2="495.40" y2="387.00" stroke="#7a7a7a" stroke-width="0.50"/>
<circle cx="493.40" cy="392.00" r="1.3" fill="none" stroke="#7a7a7a" stroke-width="0.6"/>
<line x1="491.20" y1="392.00" x2="495.40" y2="392.00" stroke="#7a7a7a" stroke-width="0.50"/>
<circle cx="493.40" cy="397.00" r="1.3" fill="none" stroke="#7a7a7a" stroke-width="0.6"/>
<line x1="491.20" y1="397.00" x2="495.40" y2="397.00" stroke="#7a7a7a" stroke-width="0.50"/>
<line x1="506.79" y1="347.70" x2="506.79" y2="365.40" stroke="#888" stroke-width="0.50"/>
<line x1="506.79" y1="391.50" x2="506.79" y2="403.50" stroke="#888" stroke-width="0.50"/>
<rect x="501.19" y="365.40" width="11.20" height="26.10" fill="#d4d4d4" stroke="#8a8a8a" stroke-width="0.5"/>
<line x1="501.19" y1="377.30" x2="512.39" y2="377.30" stroke="#333" stroke-width="0.90"/>
<circle cx="507.09" cy="347.70" r="1.3" fill="none" stroke="#7a7a7a" stroke-width="0.6"/>
<line x1="504.89" y1="347.70" x2="509.09" y2="347.70" stroke="#7a7a7a" stroke-width="0.50"/>
<circle cx="507.09" cy="358.00" r="1.3" fill="none" stroke="#7a7a7a" stroke-width="0.6"/>
<line x1="504.89" y1="358.00" x2="509.09" y2="358.00" stroke="#7a7a7a" stroke-width="0.50"/>
<circle cx="507.09" cy="365.40" r="1.3" fill="none" stroke="#7a7a7a" stroke-width="0.6"/>
<line x1="504.89" y1="365.40" x2="509.09" y2="365.40" stroke="#7a7a7a" stroke-width="0.50"/>
<circle cx="507.09" cy="375.50" r="1.3" fill="none" stroke="#7a7a7a" stroke-width="0.6"/>
<line x1="504.89" y1="375.50" x2="509.09" y2="375.50" stroke="#7a7a7a" stroke-width="0.50"/>
<circle cx="507.09" cy="378.00" r="1.3" fill="none" stroke="#7a7a7a" stroke-width="0.6"/>
<line x1="504.89" y1="378.00" x2="509.09" y2="378.00" stroke="#7a7a7a" stroke-width="0.50"/>
<circle cx="507.09" cy="391.50" r="1.3" fill="none" stroke="#7a7a7a" stroke-width="0.6"/>
<line x1="504.89" y1="391.50" x2="509.09" y2="391.50" stroke="#7a7a7a" stroke-width="0.50"/>
<circle cx="507.09" cy="397.00" r="1.3" fill="none" stroke="#7a7a7a" stroke-width="0.6"/>
<line x1="504.89" y1="397.00" x2="509.09" y2="397.00" stroke="#7a7a7a" stroke-width="0.50"/>
<circle cx="507.09" cy="403.50" r="1.3" fill="none" stroke="#7a7a7a" stroke-width="0.6"/>
<line x1="504.89" y1="403.50" x2="509.09" y2="403.50" stroke="#7a7a7a" stroke-width="0.50"/>
<line x1="478.91" y1="345.40" x2="507.29" y2="345.40" stroke="#8a8a8a" stroke-width="0.60"/>
<line x1="507.29" y1="345.40" x2="507.29" y2="346.90" stroke="#8a8a8a" stroke-width="0.60"/>
<text x="493.10" y="347.60" font-size="5.40" text-anchor="middle" fill="#555" stroke="#555" stroke-width="0.05">**</text>
<text x="336.90" y="427.90" font-size="5.30" font-weight="bold" fill="#111">NFKB1</text>
<rect x="336.50" y="428.80" width="44.00" height="64.10" fill="none" stroke="#b4b4b4" stroke-width="0.9"/>
<line x1="334.70" y1="490.00" x2="336.50" y2="490.00" stroke="#777" stroke-width="0.60"/>
<text x="334.40" y="491.80" font-size="4.90" text-anchor="end" fill="#333" stroke="#333" stroke-width="0.12">0</text>
<line x1="334.70" y1="479.10" x2="336.50" y2="479.10" stroke="#777" stroke-width="0.60"/>
<text x="334.40" y="480.90" font-size="4.90" text-anchor="end" fill="#333" stroke="#333" stroke-width="0.12">5</text>
<line x1="334.70" y1="468.00" x2="336.50" y2="468.00" stroke="#777" stroke-width="0.60"/>
<text x="334.40" y="469.80" font-size="4.90" text-anchor="end" fill="#333" stroke="#333" stroke-width="0.12">10</text>
<line x1="334.70" y1="457.00" x2="336.50" y2="457.00" stroke="#777" stroke-width="0.60"/>
<text x="334.40" y="458.80" font-size="4.90" text-anchor="end" fill="#333" stroke="#333" stroke-width="0.12">15</text>
<line x1="334.70" y1="445.70" x2="336.50" y2="445.70" stroke="#777" stroke-width="0.60"/>
<text x="334.40" y="447.50" font-size="4.90" text-anchor="end" fill="#333" stroke="#333" stroke-width="0.12">20</text>
<line x1="334.70" y1="434.70" x2="336.50" y2="434.70" stroke="#777" stroke-width="0.60"/>
<text x="334.40" y="436.50" font-size="4.90" text-anchor="end" fill="#333" stroke="#333" stroke-width="0.12">25</text>
<text x="0" y="0" font-size="5.6" fill="#222" stroke="#222" stroke-width="0.12" text-anchor="middle" transform="translate(322.50 464.05) rotate(-90)">TPM</text>
<line x1="344.99" y1="492.90" x2="344.99" y2="494.50" stroke="#777" stroke-width="0.60"/>
<text x="0" y="0" font-size="6.0" fill="#111" stroke="#111" stroke-width="0.15" text-anchor="end" transform="translate(347.59 496.80) rotate(-45)">ND</text>
<line x1="358.50" y1="492.90" x2="358.50" y2="494.50" stroke="#777" stroke-width="0.60"/>
<text x="0" y="0" font-size="6.0" fill="#111" stroke="#111" stroke-width="0.15" text-anchor="end" transform="translate(361.10 496.80) rotate(-45)">AAb+</text>
<line x1="372.01" y1="492.90" x2="372.01" y2="494.50" stroke="#777" stroke-width="0.60"/>
<text x="0" y="0" font-size="6.0" fill="#111" stroke="#111" stroke-width="0.15" text-anchor="end" transform="translate(374.61 496.80) rotate(-45)">T1D</text>
<line x1="344.99" y1="486.50" x2="344.99" y2="488.00" stroke="#888" stroke-width="0.50"/>
<line x1="344.99" y1="489.60" x2="344.99" y2="490.50" stroke="#888" stroke-width="0.50"/>
<rect x="339.39" y="488.00" width="11.20" height="1.60" fill="#d4d4d4" stroke="#8a8a8a" stroke-width="0.5"/>
<line x1="339.39" y1="488.80" x2="350.59" y2="488.80" stroke="#333" stroke-width="0.90"/>
<circle cx="345.29" cy="487.00" r="1.3" fill="none" stroke="#7a7a7a" stroke-width="0.6"/>
<line x1="343.09" y1="487.00" x2="347.29" y2="487.00" stroke="#7a7a7a" stroke-width="0.50"/>
<rect x="339.39" y="487.80" width="11.20" height="2.00" fill="#8a8a8a"/>
<ellipse cx="344.99" cy="488.80" rx="1.25" ry="2.60" fill="#111"/>
<line x1="358.50" y1="487.50" x2="358.50" y2="488.30" stroke="#888" stroke-width="0.50"/>
<line x1="358.50" y1="489.40" x2="358.50" y2="490.00" stroke="#888" stroke-width="0.50"/>
<rect x="352.90" y="488.30" width="11.20" height="1.10" fill="#d4d4d4" stroke="#8a8a8a" stroke-width="0.5"/>
<line x1="352.90" y1="488.90" x2="364.10" y2="488.90" stroke="#333" stroke-width="0.90"/>
<circle cx="358.80" cy="479.90" r="1.3" fill="none" stroke="#7a7a7a" stroke-width="0.6"/>
<line x1="356.60" y1="479.90" x2="360.80" y2="479.90" stroke="#7a7a7a" stroke-width="0.50"/>
<rect x="352.90" y="488.10" width="11.20" height="1.50" fill="#8a8a8a"/>
<ellipse cx="358.50" cy="488.85" rx="1.25" ry="2.35" fill="#111"/>
<line x1="372.01" y1="475.70" x2="372.01" y2="480.20" stroke="#888" stroke-width="0.50"/>
<line x1="372.01" y1="484.40" x2="372.01" y2="488.30" stroke="#888" stroke-width="0.50"/>
<rect x="366.41" y="480.20" width="11.20" height="4.20" fill="#d4d4d4" stroke="#8a8a8a" stroke-width="0.5"/>
<line x1="366.41" y1="482.00" x2="377.61" y2="482.00" stroke="#333" stroke-width="0.90"/>
<circle cx="372.31" cy="434.40" r="1.3" fill="none" stroke="#7a7a7a" stroke-width="0.6"/>
<line x1="370.11" y1="434.40" x2="374.31" y2="434.40" stroke="#7a7a7a" stroke-width="0.50"/>
<circle cx="372.31" cy="475.70" r="1.3" fill="none" stroke="#7a7a7a" stroke-width="0.6"/>
<line x1="370.11" y1="475.70" x2="374.31" y2="475.70" stroke="#7a7a7a" stroke-width="0.50"/>
<circle cx="372.31" cy="480.00" r="1.3" fill="none" stroke="#7a7a7a" stroke-width="0.6"/>
<line x1="370.11" y1="480.00" x2="374.31" y2="480.00" stroke="#7a7a7a" stroke-width="0.50"/>
<circle cx="372.31" cy="483.00" r="1.3" fill="none" stroke="#7a7a7a" stroke-width="0.6"/>
<line x1="370.11" y1="483.00" x2="374.31" y2="483.00" stroke="#7a7a7a" stroke-width="0.50"/>
<circle cx="372.31" cy="486.00" r="1.3" fill="none" stroke="#7a7a7a" stroke-width="0.6"/>
<line x1="370.11" y1="486.00" x2="374.31" y2="486.00" stroke="#7a7a7a" stroke-width="0.50"/>
<circle cx="372.31" cy="488.30" r="1.3" fill="none" stroke="#7a7a7a" stroke-width="0.6"/>
<line x1="370.11" y1="488.30" x2="374.31" y2="488.30" stroke="#7a7a7a" stroke-width="0.50"/>
<line x1="344.49" y1="432.10" x2="372.51" y2="432.10" stroke="#8a8a8a" stroke-width="0.60"/>
<line x1="372.51" y1="432.10" x2="372.51" y2="433.60" stroke="#8a8a8a" stroke-width="0.60"/>
<text x="358.50" y="434.30" font-size="5.40" text-anchor="middle" fill="#555" stroke="#555" stroke-width="0.05">**</text>
<text x="402.60" y="427.90" font-size="5.30" font-weight="bold" fill="#111">BCL6</text>
<rect x="402.20" y="428.80" width="44.60" height="64.10" fill="none" stroke="#b4b4b4" stroke-width="0.9"/>
<line x1="400.40" y1="490.10" x2="402.20" y2="490.10" stroke="#777" stroke-width="0.60"/>
<text x="400.10" y="491.90" font-size="4.90" text-anchor="end" fill="#333" stroke="#333" stroke-width="0.12">0</text>
<line x1="400.40" y1="478.20" x2="402.20" y2="478.20" stroke="#777" stroke-width="0.60"/>
<text x="400.10" y="480.00" font-size="4.90" text-anchor="end" fill="#333" stroke="#333" stroke-width="0.12">2</text>
<line x1="400.40" y1="465.90" x2="402.20" y2="465.90" stroke="#777" stroke-width="0.60"/>
<text x="400.10" y="467.70" font-size="4.90" text-anchor="end" fill="#333" stroke="#333" stroke-width="0.12">4</text>
<line x1="400.40" y1="453.50" x2="402.20" y2="453.50" stroke="#777" stroke-width="0.60"/>
<text x="400.10" y="455.30" font-size="4.90" text-anchor="end" fill="#333" stroke="#333" stroke-width="0.12">6</text>
<line x1="400.40" y1="441.60" x2="402.20" y2="441.60" stroke="#777" stroke-width="0.60"/>
<text x="400.10" y="443.40" font-size="4.90" text-anchor="end" fill="#333" stroke="#333" stroke-width="0.12">8</text>
<line x1="410.81" y1="492.90" x2="410.81" y2="494.50" stroke="#777" stroke-width="0.60"/>
<text x="0" y="0" font-size="6.0" fill="#111" stroke="#111" stroke-width="0.15" text-anchor="end" transform="translate(413.41 496.80) rotate(-45)">ND</text>
<line x1="424.50" y1="492.90" x2="424.50" y2="494.50" stroke="#777" stroke-width="0.60"/>
<text x="0" y="0" font-size="6.0" fill="#111" stroke="#111" stroke-width="0.15" text-anchor="end" transform="translate(427.10 496.80) rotate(-45)">AAb+</text>
<line x1="438.19" y1="492.90" x2="438.19" y2="494.50" stroke="#777" stroke-width="0.60"/>
<text x="0" y="0" font-size="6.0" fill="#111" stroke="#111" stroke-width="0.15" text-anchor="end" transform="translate(440.79 496.80) rotate(-45)">T1D</text>
<line x1="410.81" y1="475.80" x2="410.81" y2="483.10" stroke="#888" stroke-width="0.50"/>
<line x1="410.81" y1="487.30" x2="410.81" y2="490.00" stroke="#888" stroke-width="0.50"/>
<rect x="405.21" y="483.10" width="11.20" height="4.20" fill="#d4d4d4" stroke="#8a8a8a" stroke-width="0.5"/>
<line x1="405.21" y1="484.60" x2="416.41" y2="484.60" stroke="#333" stroke-width="0.90"/>
<circle cx="411.11" cy="475.80" r="1.3" fill="none" stroke="#7a7a7a" stroke-width="0.6"/>
<line x1="408.91" y1="475.80" x2="413.11" y2="475.80" stroke="#7a7a7a" stroke-width="0.50"/>
<circle cx="411.11" cy="478.00" r="1.3" fill="none" stroke="#7a7a7a" stroke-width="0.6"/>
<line x1="408.91" y1="478.00" x2="413.11" y2="478.00" stroke="#7a7a7a" stroke-width="0.50"/>
<circle cx="411.11" cy="481.00" r="1.3" fill="none" stroke="#7a7a7a" stroke-width="0.6"/>
<line x1="408.91" y1="481.00" x2="413.11" y2="481.00" stroke="#7a7a7a" stroke-width="0.50"/>
<circle cx="411.11" cy="486.00" r="1.3" fill="none" stroke="#7a7a7a" stroke-width="0.6"/>
<line x1="408.91" y1="486.00" x2="413.11" y2="486.00" stroke="#7a7a7a" stroke-width="0.50"/>
<circle cx="411.11" cy="489.00" r="1.3" fill="none" stroke="#7a7a7a" stroke-width="0.6"/>
<line x1="408.91" y1="489.00" x2="413.11" y2="489.00" stroke="#7a7a7a" stroke-width="0.50"/>
<line x1="424.50" y1="482.50" x2="424.50" y2="483.70" stroke="#888" stroke-width="0.50"/>
<line x1="424.50" y1="488.30" x2="424.50" y2="489.50" stroke="#888" stroke-width="0.50"/>
<rect x="418.90" y="483.70" width="11.20" height="4.60" fill="#d4d4d4" stroke="#8a8a8a" stroke-width="0.5"/>
<line x1="418.90" y1="486.40" x2="430.10" y2="486.40" stroke="#333" stroke-width="0.90"/>
<circle cx="424.80" cy="434.20" r="1.3" fill="none" stroke="#7a7a7a" stroke-width="0.6"/>
<line x1="422.60" y1="434.20" x2="426.80" y2="434.20" stroke="#7a7a7a" stroke-width="0.50"/>
<circle cx="424.80" cy="484.00" r="1.3" fill="none" stroke="#7a7a7a" stroke-width="0.6"/>
<line x1="422.60" y1="484.00" x2="426.80" y2="484.00" stroke="#7a7a7a" stroke-width="0.50"/>
<circle cx="424.80" cy="488.00" r="1.3" fill="none" stroke="#7a7a7a" stroke-width="0.6"/>
<line x1="422.60" y1="488.00" x2="426.80" y2="488.00" stroke="#7a7a7a" stroke-width="0.50"/>
<line x1="438.19" y1="450.30" x2="438.19" y2="464.80" stroke="#888" stroke-width="0.50"/>
<line x1="438.19" y1="482.40" x2="438.19" y2="490.00" stroke="#888" stroke-width="0.50"/>
<rect x="432.59" y="464.80" width="11.20" height="17.60" fill="#d4d4d4" stroke="#8a8a8a" stroke-width="0.5"/>
<line x1="432.59" y1="472.30" x2="443.79" y2="472.30" stroke="#333" stroke-width="0.90"/>
<circle cx="438.49" cy="450.30" r="1.3" fill="none" stroke="#7a7a7a" stroke-width="0.6"/>
<line x1="436.29" y1="450.30" x2="440.49" y2="450.30" stroke="#7a7a7a" stroke-width="0.50"/>
<circle cx="438.49" cy="455.50" r="1.3" fill="none" stroke="#7a7a7a" stroke-width="0.6"/>
<line x1="436.29" y1="455.50" x2="440.49" y2="455.50" stroke="#7a7a7a" stroke-width="0.50"/>
<circle cx="438.49" cy="466.00" r="1.3" fill="none" stroke="#7a7a7a" stroke-width="0.6"/>
<line x1="436.29" y1="466.00" x2="440.49" y2="466.00" stroke="#7a7a7a" stroke-width="0.50"/>
<circle cx="438.49" cy="468.50" r="1.3" fill="none" stroke="#7a7a7a" stroke-width="0.6"/>
<line x1="436.29" y1="468.50" x2="440.49" y2="468.50" stroke="#7a7a7a" stroke-width="0.50"/>
<circle cx="438.49" cy="473.00" r="1.3" fill="none" stroke="#7a7a7a" stroke-width="0.6"/>
<line x1="436.29" y1="473.00" x2="440.49" y2="473.00" stroke="#7a7a7a" stroke-width="0.50"/>
<circle cx="438.49" cy="477.00" r="1.3" fill="none" stroke="#7a7a7a" stroke-width="0.6"/>
<line x1="436.29" y1="477.00" x2="440.49" y2="477.00" stroke="#7a7a7a" stroke-width="0.50"/>
<circle cx="438.49" cy="482.40" r="1.3" fill="none" stroke="#7a7a7a" stroke-width="0.6"/>
<line x1="436.29" y1="482.40" x2="440.49" y2="482.40" stroke="#7a7a7a" stroke-width="0.50"/>
<circle cx="438.49" cy="485.00" r="1.3" fill="none" stroke="#7a7a7a" stroke-width="0.6"/>
<line x1="436.29" y1="485.00" x2="440.49" y2="485.00" stroke="#7a7a7a" stroke-width="0.50"/>
<circle cx="438.49" cy="490.00" r="1.3" fill="none" stroke="#7a7a7a" stroke-width="0.6"/>
<line x1="436.29" y1="490.00" x2="440.49" y2="490.00" stroke="#7a7a7a" stroke-width="0.50"/>
<line x1="410.31" y1="432.40" x2="438.69" y2="432.40" stroke="#8a8a8a" stroke-width="0.60"/>
<line x1="438.69" y1="432.40" x2="438.69" y2="433.90" stroke="#8a8a8a" stroke-width="0.60"/>
<text x="424.50" y="434.60" font-size="5.40" text-anchor="middle" fill="#555" stroke="#555" stroke-width="0.05">**</text>
<text x="471.20" y="427.90" font-size="5.30" font-weight="bold" fill="#111">GAD1</text>
<rect x="470.80" y="428.80" width="44.60" height="64.10" fill="none" stroke="#b4b4b4" stroke-width="0.9"/>
<line x1="469.00" y1="490.10" x2="470.80" y2="490.10" stroke="#777" stroke-width="0.60"/>
<text x="468.70" y="491.90" font-size="4.90" text-anchor="end" fill="#333" stroke="#333" stroke-width="0.12">0</text>
<line x1="469.00" y1="482.40" x2="470.80" y2="482.40" stroke="#777" stroke-width="0.60"/>
<text x="468.70" y="484.20" font-size="4.90" text-anchor="end" fill="#333" stroke="#333" stroke-width="0.12">2</text>
<line x1="469.00" y1="474.50" x2="470.80" y2="474.50" stroke="#777" stroke-width="0.60"/>
<text x="468.70" y="476.30" font-size="4.90" text-anchor="end" fill="#333" stroke="#333" stroke-width="0.12">4</text>
<line x1="469.00" y1="466.80" x2="470.80" y2="466.80" stroke="#777" stroke-width="0.60"/>
<text x="468.70" y="468.60" font-size="4.90" text-anchor="end" fill="#333" stroke="#333" stroke-width="0.12">6</text>
<line x1="469.00" y1="459.00" x2="470.80" y2="459.00" stroke="#777" stroke-width="0.60"/>
<text x="468.70" y="460.80" font-size="4.90" text-anchor="end" fill="#333" stroke="#333" stroke-width="0.12">8</text>
<line x1="469.00" y1="451.10" x2="470.80" y2="451.10" stroke="#777" stroke-width="0.60"/>
<text x="468.70" y="452.90" font-size="4.90" text-anchor="end" fill="#333" stroke="#333" stroke-width="0.12">10</text>
<line x1="469.00" y1="443.00" x2="470.80" y2="443.00" stroke="#777" stroke-width="0.60"/>
<text x="468.70" y="444.80" font-size="4.90" text-anchor="end" fill="#333" stroke="#333" stroke-width="0.12">12</text>
<line x1="469.00" y1="435.10" x2="470.80" y2="435.10" stroke="#777" stroke-width="0.60"/>
<text x="468.70" y="436.90" font-size="4.90" text-anchor="end" fill="#333" stroke="#333" stroke-width="0.12">14</text>
<line x1="479.41" y1="492.90" x2="479.41" y2="494.50" stroke="#777" stroke-width="0.60"/>
<text x="0" y="0" font-size="6.0" fill="#111" stroke="#111" stroke-width="0.15" text-anchor="end" transform="translate(482.01 496.80) rotate(-45)">ND</text>
<line x1="493.10" y1="492.90" x2="493.10" y2="494.50" stroke="#777" stroke-width="0.60"/>
<text x="0" y="0" font-size="6.0" fill="#111" stroke="#111" stroke-width="0.15" text-anchor="end" transform="translate(495.70 496.80) rotate(-45)">AAb+</text>
<line x1="506.79" y1="492.90" x2="506.79" y2="494.50" stroke="#777" stroke-width="0.60"/>
<text x="0" y="0" font-size="6.0" fill="#111" stroke="#111" stroke-width="0.15" text-anchor="end" transform="translate(509.39 496.80) rotate(-45)">T1D</text>
<line x1="479.41" y1="486.50" x2="479.41" y2="488.60" stroke="#888" stroke-width="0.50"/>
<line x1="479.41" y1="489.90" x2="479.41" y2="490.10" stroke="#888" stroke-width="0.50"/>
<rect x="473.81" y="488.60" width="11.20" height="1.30" fill="#d4d4d4" stroke="#8a8a8a" stroke-width="0.5"/>
<line x1="473.81" y1="489.20" x2="485.01" y2="489.20" stroke="#333" stroke-width="0.90"/>
<circle cx="479.71" cy="482.60" r="1.3" fill="none" stroke="#7a7a7a" stroke-width="0.6"/>
<line x1="477.51" y1="482.60" x2="481.71" y2="482.60" stroke="#7a7a7a" stroke-width="0.50"/>
<circle cx="479.71" cy="485.00" r="1.3" fill="none" stroke="#7a7a7a" stroke-width="0.6"/>
<line x1="477.51" y1="485.00" x2="481.71" y2="485.00" stroke="#7a7a7a" stroke-width="0.50"/>
<rect x="473.81" y="488.40" width="11.20" height="1.70" fill="#8a8a8a"/>
<ellipse cx="479.41" cy="489.25" rx="1.25" ry="2.45" fill="#111"/>
<line x1="493.10" y1="488.00" x2="493.10" y2="489.00" stroke="#888" stroke-width="0.50"/>
<line x1="493.10" y1="490.10" x2="493.10" y2="490.10" stroke="#888" stroke-width="0.50"/>
<rect x="487.50" y="489.00" width="11.20" height="1.10" fill="#d4d4d4" stroke="#8a8a8a" stroke-width="0.5"/>
<line x1="487.50" y1="489.60" x2="498.70" y2="489.60" stroke="#333" stroke-width="0.90"/>
<circle cx="493.40" cy="488.00" r="1.3" fill="none" stroke="#7a7a7a" stroke-width="0.6"/>
<line x1="491.20" y1="488.00" x2="495.40" y2="488.00" stroke="#7a7a7a" stroke-width="0.50"/>
<rect x="487.50" y="488.80" width="11.20" height="1.50" fill="#8a8a8a"/>
<ellipse cx="493.10" cy="489.55" rx="1.25" ry="2.35" fill="#111"/>
<line x1="506.79" y1="469.00" x2="506.79" y2="471.80" stroke="#888" stroke-width="0.50"/>
<line x1="506.79" y1="488.30" x2="506.79" y2="490.10" stroke="#888" stroke-width="0.50"/>
<rect x="501.19" y="471.80" width="11.20" height="16.50" fill="#d4d4d4" stroke="#8a8a8a" stroke-width="0.5"/>
<line x1="501.19" y1="482.40" x2="512.39" y2="482.40" stroke="#333" stroke-width="0.90"/>
<circle cx="507.09" cy="433.90" r="1.3" fill="none" stroke="#7a7a7a" stroke-width="0.6"/>
<line x1="504.89" y1="433.90" x2="509.09" y2="433.90" stroke="#7a7a7a" stroke-width="0.50"/>
<circle cx="507.09" cy="469.00" r="1.3" fill="none" stroke="#7a7a7a" stroke-width="0.6"/>
<line x1="504.89" y1="469.00" x2="509.09" y2="469.00" stroke="#7a7a7a" stroke-width="0.50"/>
<circle cx="507.09" cy="476.50" r="1.3" fill="none" stroke="#7a7a7a" stroke-width="0.6"/>
<line x1="504.89" y1="476.50" x2="509.09" y2="476.50" stroke="#7a7a7a" stroke-width="0.50"/>
<circle cx="507.09" cy="488.30" r="1.3" fill="none" stroke="#7a7a7a" stroke-width="0.6"/>
<line x1="504.89" y1="488.30" x2="509.09" y2="488.30" stroke="#7a7a7a" stroke-width="0.50"/>
<line x1="478.91" y1="431.80" x2="507.29" y2="431.80" stroke="#8a8a8a" stroke-width="0.60"/>
<line x1="507.29" y1="431.80" x2="507.29" y2="433.30" stroke="#8a8a8a" stroke-width="0.60"/>
<text x="493.10" y="434.00" font-size="5.40" text-anchor="middle" fill="#555" stroke="#555" stroke-width="0.05">**</text>
</svg></body></html>
